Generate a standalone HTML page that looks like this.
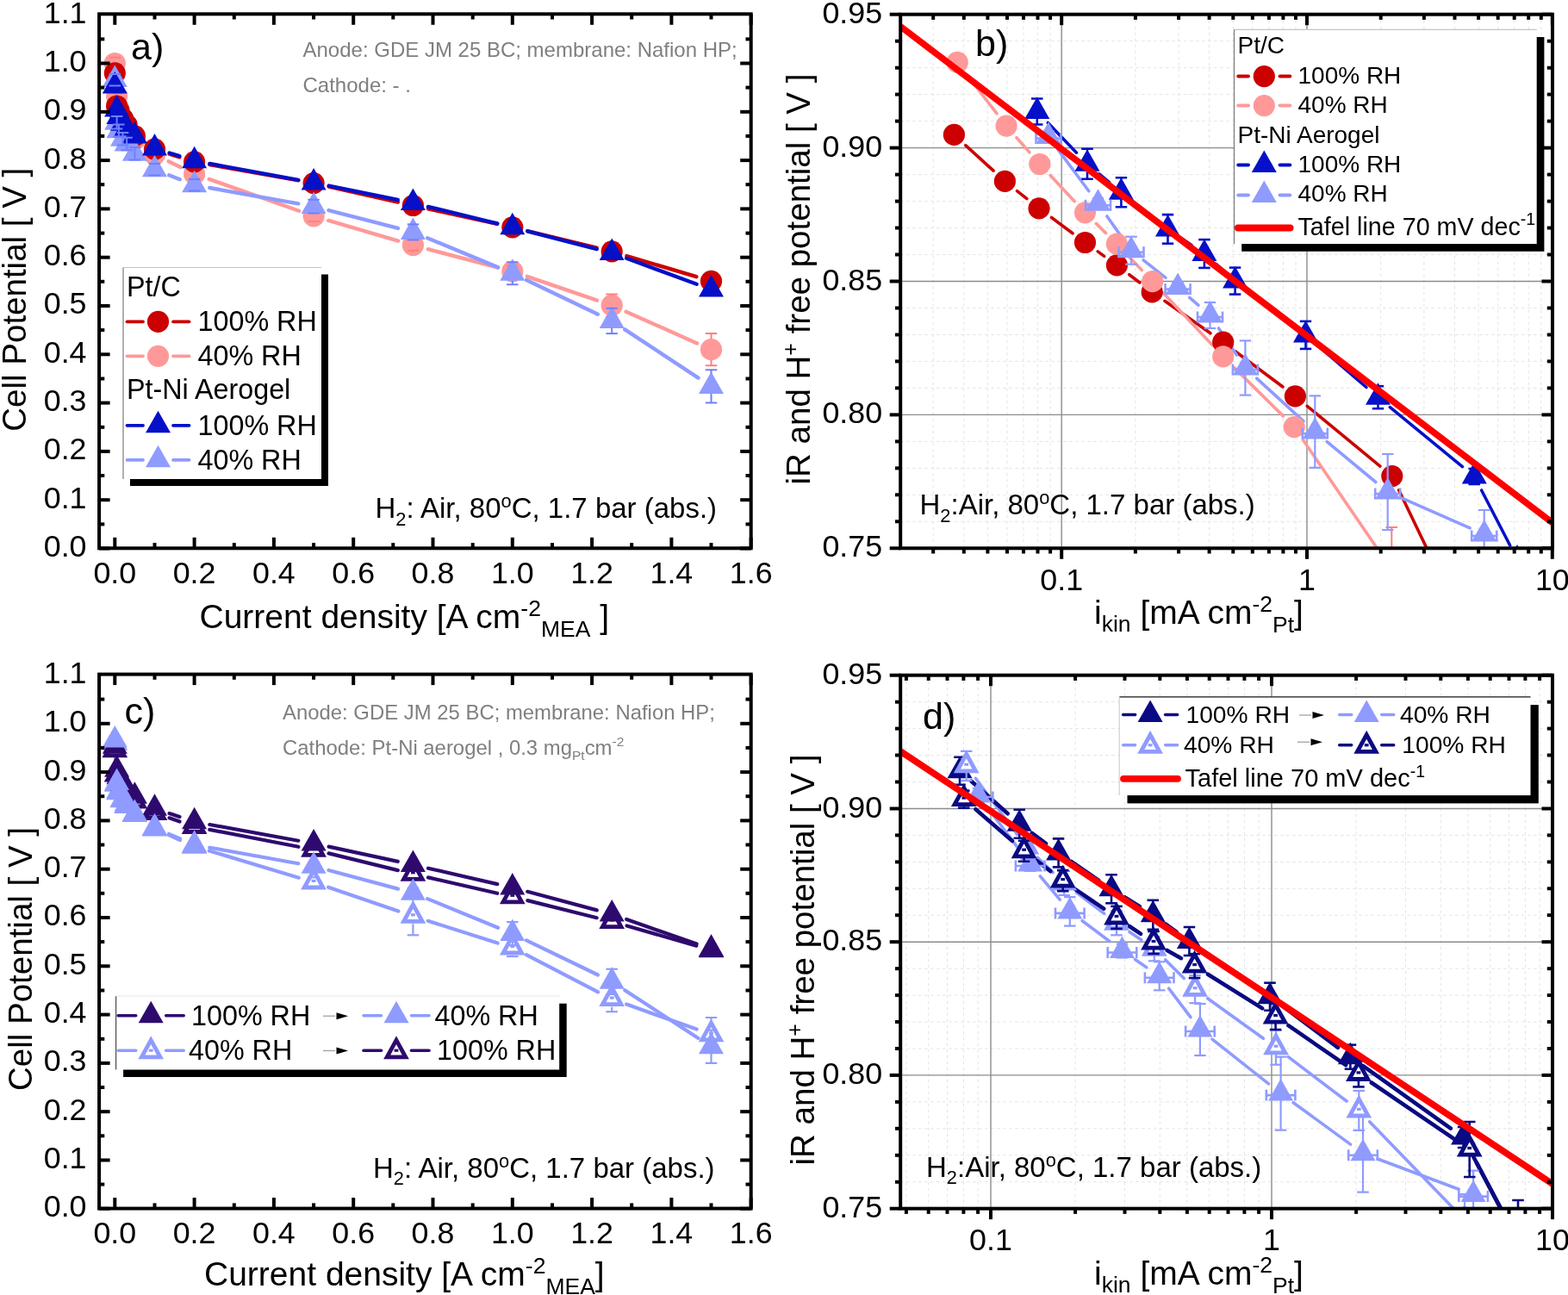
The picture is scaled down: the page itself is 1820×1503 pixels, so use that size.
<!DOCTYPE html>
<html lang="en">
<head>
<meta charset="utf-8">
<title>Polarization curves and Tafel plots</title>
<style>
html,body{margin:0;padding:0;background:#fff;}
body{width:1820px;height:1503px;overflow:hidden;}
svg{display:block;font-family:"Liberation Sans", sans-serif;}
</style>
</head>
<body>
<svg width="1820" height="1503" viewBox="0 0 1820 1503">
<rect x="0" y="0" width="1820" height="1503" fill="#fff"/>
<clipPath id="ca"><rect x="115.1" y="16.3" width="756.6" height="620"/></clipPath>
<g clip-path="url(#ca)">
<line x1="134.4" y1="91.5" x2="134.5" y2="93.8" stroke="#ff9999" stroke-width="4.4" stroke-linecap="round"/>
<line x1="195.6" y1="187.2" x2="209.4" y2="194" stroke="#ff9999" stroke-width="4.4" stroke-linecap="round"/>
<line x1="242.6" y1="207.9" x2="347.1" y2="244.8" stroke="#ff9999" stroke-width="4.4" stroke-linecap="round"/>
<line x1="381.3" y1="255.9" x2="462.2" y2="279.6" stroke="#ff9999" stroke-width="4.4" stroke-linecap="round"/>
<line x1="496.8" y1="289.2" x2="577.4" y2="310.4" stroke="#ff9999" stroke-width="4.4" stroke-linecap="round"/>
<line x1="611.8" y1="320.8" x2="693.1" y2="348.6" stroke="#ff9999" stroke-width="4.4" stroke-linecap="round"/>
<line x1="726.6" y1="361.7" x2="809.1" y2="398.4" stroke="#ff9999" stroke-width="4.4" stroke-linecap="round"/>
<line x1="134.4" y1="102.7" x2="134.5" y2="105.1" stroke="#cc0000" stroke-width="4.4" stroke-linecap="round"/>
<line x1="196.6" y1="178.6" x2="208.4" y2="182.3" stroke="#cc0000" stroke-width="4.4" stroke-linecap="round"/>
<line x1="243.3" y1="191" x2="346.3" y2="209.4" stroke="#cc0000" stroke-width="4.4" stroke-linecap="round"/>
<line x1="381.6" y1="216.5" x2="461.9" y2="234.5" stroke="#cc0000" stroke-width="4.4" stroke-linecap="round"/>
<line x1="497" y1="242.3" x2="577.2" y2="259.9" stroke="#cc0000" stroke-width="4.4" stroke-linecap="round"/>
<line x1="612.3" y1="268.1" x2="692.7" y2="287.7" stroke="#cc0000" stroke-width="4.4" stroke-linecap="round"/>
<line x1="727.4" y1="297.1" x2="808.3" y2="321.2" stroke="#cc0000" stroke-width="4.4" stroke-linecap="round"/>
<line x1="134.1" y1="110.6" x2="134.8" y2="124.2" stroke="#8f9bff" stroke-width="4.4" stroke-linecap="round"/>
<line x1="196.2" y1="203.3" x2="208.8" y2="208.3" stroke="#8f9bff" stroke-width="4.4" stroke-linecap="round"/>
<line x1="243.3" y1="218" x2="346.3" y2="236.4" stroke="#8f9bff" stroke-width="4.4" stroke-linecap="round"/>
<line x1="381.5" y1="244.1" x2="462" y2="264.9" stroke="#8f9bff" stroke-width="4.4" stroke-linecap="round"/>
<line x1="496.1" y1="276.3" x2="578.2" y2="310.4" stroke="#8f9bff" stroke-width="4.4" stroke-linecap="round"/>
<line x1="611" y1="325" x2="693.9" y2="364.7" stroke="#8f9bff" stroke-width="4.4" stroke-linecap="round"/>
<line x1="725.2" y1="382.4" x2="810.5" y2="438.6" stroke="#8f9bff" stroke-width="4.4" stroke-linecap="round"/>
<line x1="196.6" y1="177.5" x2="208.4" y2="181.2" stroke="#0510c8" stroke-width="4.4" stroke-linecap="round"/>
<line x1="243.3" y1="189.9" x2="346.3" y2="208.8" stroke="#0510c8" stroke-width="4.4" stroke-linecap="round"/>
<line x1="381.7" y1="215.6" x2="461.8" y2="232" stroke="#0510c8" stroke-width="4.4" stroke-linecap="round"/>
<line x1="496.9" y1="239.9" x2="577.3" y2="259.5" stroke="#0510c8" stroke-width="4.4" stroke-linecap="round"/>
<line x1="612.2" y1="268.3" x2="692.7" y2="289.1" stroke="#0510c8" stroke-width="4.4" stroke-linecap="round"/>
<line x1="727.1" y1="299.8" x2="808.6" y2="329.7" stroke="#0510c8" stroke-width="4.4" stroke-linecap="round"/>
<circle cx="133.3" cy="73.5" r="12.6" fill="#ff9999"/>
<circle cx="135.6" cy="111.8" r="12.6" fill="#ff9999"/>
<circle cx="137.9" cy="127" r="12.6" fill="#ff9999"/>
<circle cx="142.5" cy="138.2" r="12.6" fill="#ff9999"/>
<circle cx="147.1" cy="147.8" r="12.6" fill="#ff9999"/>
<circle cx="156.4" cy="161.9" r="12.6" fill="#ff9999"/>
<circle cx="179.5" cy="179.3" r="12.6" fill="#ff9999"/>
<circle cx="225.6" cy="201.9" r="12.6" fill="#ff9999"/>
<circle cx="364.1" cy="250.8" r="12.6" fill="#ff9999"/>
<circle cx="479.4" cy="284.6" r="12.6" fill="#ff9999"/>
<circle cx="594.8" cy="315" r="12.6" fill="#ff9999"/>
<circle cx="710.2" cy="354.4" r="12.6" fill="#ff9999"/>
<circle cx="825.5" cy="405.7" r="12.6" fill="#ff9999"/>
<line x1="126.6" y1="66.7" x2="140.1" y2="66.7" stroke="#ff7f7f" stroke-width="2" stroke-linecap="butt"/>
<line x1="126.6" y1="80.3" x2="140.1" y2="80.3" stroke="#ff7f7f" stroke-width="2" stroke-linecap="butt"/>
<line x1="128.9" y1="108.4" x2="142.4" y2="108.4" stroke="#ff7f7f" stroke-width="2" stroke-linecap="butt"/>
<line x1="128.9" y1="115.2" x2="142.4" y2="115.2" stroke="#ff7f7f" stroke-width="2" stroke-linecap="butt"/>
<line x1="131.2" y1="123.6" x2="144.7" y2="123.6" stroke="#ff7f7f" stroke-width="2" stroke-linecap="butt"/>
<line x1="131.2" y1="130.4" x2="144.7" y2="130.4" stroke="#ff7f7f" stroke-width="2" stroke-linecap="butt"/>
<line x1="135.8" y1="134.9" x2="149.3" y2="134.9" stroke="#ff7f7f" stroke-width="2" stroke-linecap="butt"/>
<line x1="135.8" y1="141.6" x2="149.3" y2="141.6" stroke="#ff7f7f" stroke-width="2" stroke-linecap="butt"/>
<line x1="140.4" y1="144.4" x2="153.9" y2="144.4" stroke="#ff7f7f" stroke-width="2" stroke-linecap="butt"/>
<line x1="140.4" y1="151.2" x2="153.9" y2="151.2" stroke="#ff7f7f" stroke-width="2" stroke-linecap="butt"/>
<line x1="149.6" y1="158.5" x2="163.1" y2="158.5" stroke="#ff7f7f" stroke-width="2" stroke-linecap="butt"/>
<line x1="149.6" y1="165.3" x2="163.1" y2="165.3" stroke="#ff7f7f" stroke-width="2" stroke-linecap="butt"/>
<line x1="172.7" y1="174.8" x2="186.2" y2="174.8" stroke="#ff7f7f" stroke-width="2" stroke-linecap="butt"/>
<line x1="172.7" y1="183.8" x2="186.2" y2="183.8" stroke="#ff7f7f" stroke-width="2" stroke-linecap="butt"/>
<line x1="218.9" y1="196.2" x2="232.4" y2="196.2" stroke="#ff7f7f" stroke-width="2" stroke-linecap="butt"/>
<line x1="218.9" y1="207.5" x2="232.4" y2="207.5" stroke="#ff7f7f" stroke-width="2" stroke-linecap="butt"/>
<line x1="357.3" y1="244.7" x2="370.8" y2="244.7" stroke="#ff7f7f" stroke-width="2" stroke-linecap="butt"/>
<line x1="357.3" y1="257" x2="370.8" y2="257" stroke="#ff7f7f" stroke-width="2" stroke-linecap="butt"/>
<line x1="472.7" y1="278.4" x2="486.2" y2="278.4" stroke="#ff7f7f" stroke-width="2" stroke-linecap="butt"/>
<line x1="472.7" y1="290.8" x2="486.2" y2="290.8" stroke="#ff7f7f" stroke-width="2" stroke-linecap="butt"/>
<line x1="588" y1="308.3" x2="601.5" y2="308.3" stroke="#ff7f7f" stroke-width="2" stroke-linecap="butt"/>
<line x1="588" y1="321.8" x2="601.5" y2="321.8" stroke="#ff7f7f" stroke-width="2" stroke-linecap="butt"/>
<line x1="710.2" y1="341.5" x2="710.2" y2="342" stroke="#ff7f7f" stroke-width="2" stroke-linecap="butt"/>
<line x1="710.2" y1="366.8" x2="710.2" y2="367.4" stroke="#ff7f7f" stroke-width="2" stroke-linecap="butt"/>
<line x1="703.4" y1="341.5" x2="716.9" y2="341.5" stroke="#ff7f7f" stroke-width="2" stroke-linecap="butt"/>
<line x1="703.4" y1="367.4" x2="716.9" y2="367.4" stroke="#ff7f7f" stroke-width="2" stroke-linecap="butt"/>
<line x1="825.5" y1="387.1" x2="825.5" y2="393.3" stroke="#ff7f7f" stroke-width="2" stroke-linecap="butt"/>
<line x1="825.5" y1="418.1" x2="825.5" y2="424.2" stroke="#ff7f7f" stroke-width="2" stroke-linecap="butt"/>
<line x1="818.8" y1="387.1" x2="832.3" y2="387.1" stroke="#ff7f7f" stroke-width="2" stroke-linecap="butt"/>
<line x1="818.8" y1="424.2" x2="832.3" y2="424.2" stroke="#ff7f7f" stroke-width="2" stroke-linecap="butt"/>
<circle cx="133.3" cy="84.8" r="12.6" fill="#cc0000"/>
<circle cx="135.6" cy="123" r="12.6" fill="#cc0000"/>
<circle cx="137.9" cy="128.7" r="12.6" fill="#cc0000"/>
<circle cx="142.5" cy="137.7" r="12.6" fill="#cc0000"/>
<circle cx="147.1" cy="145" r="12.6" fill="#cc0000"/>
<circle cx="156.4" cy="157.9" r="12.6" fill="#cc0000"/>
<circle cx="179.5" cy="173.2" r="12.6" fill="#cc0000"/>
<circle cx="225.6" cy="187.8" r="12.6" fill="#cc0000"/>
<circle cx="364.1" cy="212.6" r="12.6" fill="#cc0000"/>
<circle cx="479.4" cy="238.5" r="12.6" fill="#cc0000"/>
<circle cx="594.8" cy="263.8" r="12.6" fill="#cc0000"/>
<circle cx="710.2" cy="291.9" r="12.6" fill="#cc0000"/>
<circle cx="825.5" cy="326.3" r="12.6" fill="#cc0000"/>
<path d="M118.8 101.1L147.8 101.1L133.3 75.6Z" fill="#8f9bff"/>
<path d="M121.1 150.7L150.1 150.7L135.6 125.2Z" fill="#8f9bff"/>
<path d="M123.4 160.3L152.4 160.3L137.9 134.8Z" fill="#8f9bff"/>
<path d="M128 169.8L157 169.8L142.5 144.3Z" fill="#8f9bff"/>
<path d="M132.6 175.5L161.6 175.5L147.1 150Z" fill="#8f9bff"/>
<path d="M141.9 186.7L170.9 186.7L156.4 161.2Z" fill="#8f9bff"/>
<path d="M165 205.3L194 205.3L179.5 179.8Z" fill="#8f9bff"/>
<path d="M211.1 223.3L240.1 223.3L225.6 197.8Z" fill="#8f9bff"/>
<path d="M349.6 248.1L378.6 248.1L364.1 222.6Z" fill="#8f9bff"/>
<path d="M464.9 277.9L493.9 277.9L479.4 252.4Z" fill="#8f9bff"/>
<path d="M580.3 325.8L609.3 325.8L594.8 300.3Z" fill="#8f9bff"/>
<path d="M695.7 381L724.7 381L710.2 355.5Z" fill="#8f9bff"/>
<path d="M811 457L840 457L825.5 431.5Z" fill="#8f9bff"/>
<path d="M118.8 108.5L147.8 108.5L133.3 83Z" fill="#0510c8"/>
<path d="M121.1 135.5L150.1 135.5L135.6 110Z" fill="#0510c8"/>
<path d="M123.4 143.9L152.4 143.9L137.9 118.4Z" fill="#0510c8"/>
<path d="M128 151.8L157 151.8L142.5 126.3Z" fill="#0510c8"/>
<path d="M132.6 157.4L161.6 157.4L147.1 131.9Z" fill="#0510c8"/>
<path d="M141.9 166.4L170.9 166.4L156.4 140.9Z" fill="#0510c8"/>
<path d="M165 180.5L194 180.5L179.5 155Z" fill="#0510c8"/>
<path d="M211.1 195.2L240.1 195.2L225.6 169.7Z" fill="#0510c8"/>
<path d="M349.6 220.5L378.6 220.5L364.1 195Z" fill="#0510c8"/>
<path d="M464.9 244.1L493.9 244.1L479.4 218.6Z" fill="#0510c8"/>
<path d="M580.3 272.3L609.3 272.3L594.8 246.8Z" fill="#0510c8"/>
<path d="M695.7 302.1L724.7 302.1L710.2 276.6Z" fill="#0510c8"/>
<path d="M811 344.4L840 344.4L825.5 318.9Z" fill="#0510c8"/>
<line x1="126.6" y1="85.9" x2="140.1" y2="85.9" stroke="#6e80ff" stroke-width="2" stroke-linecap="butt"/>
<line x1="126.6" y1="99.4" x2="140.1" y2="99.4" stroke="#6e80ff" stroke-width="2" stroke-linecap="butt"/>
<line x1="135.6" y1="135" x2="135.6" y2="142.2" stroke="#6e80ff" stroke-width="2" stroke-linecap="butt"/>
<line x1="135.6" y1="142.2" x2="135.6" y2="149.4" stroke="#6e80ff" stroke-width="2" stroke-linecap="butt"/>
<line x1="128.9" y1="135" x2="142.4" y2="135" stroke="#6e80ff" stroke-width="2" stroke-linecap="butt"/>
<line x1="128.9" y1="149.4" x2="142.4" y2="149.4" stroke="#6e80ff" stroke-width="2" stroke-linecap="butt"/>
<line x1="137.9" y1="144.6" x2="137.9" y2="151.8" stroke="#6e80ff" stroke-width="2" stroke-linecap="butt"/>
<line x1="137.9" y1="151.8" x2="137.9" y2="159" stroke="#6e80ff" stroke-width="2" stroke-linecap="butt"/>
<line x1="131.2" y1="144.6" x2="144.7" y2="144.6" stroke="#6e80ff" stroke-width="2" stroke-linecap="butt"/>
<line x1="131.2" y1="159" x2="144.7" y2="159" stroke="#6e80ff" stroke-width="2" stroke-linecap="butt"/>
<line x1="142.5" y1="154.1" x2="142.5" y2="161.3" stroke="#6e80ff" stroke-width="2" stroke-linecap="butt"/>
<line x1="142.5" y1="161.3" x2="142.5" y2="168.5" stroke="#6e80ff" stroke-width="2" stroke-linecap="butt"/>
<line x1="135.8" y1="154.1" x2="149.3" y2="154.1" stroke="#6e80ff" stroke-width="2" stroke-linecap="butt"/>
<line x1="135.8" y1="168.5" x2="149.3" y2="168.5" stroke="#6e80ff" stroke-width="2" stroke-linecap="butt"/>
<line x1="147.1" y1="159.8" x2="147.1" y2="167" stroke="#6e80ff" stroke-width="2" stroke-linecap="butt"/>
<line x1="147.1" y1="167" x2="147.1" y2="174.2" stroke="#6e80ff" stroke-width="2" stroke-linecap="butt"/>
<line x1="140.4" y1="159.8" x2="153.9" y2="159.8" stroke="#6e80ff" stroke-width="2" stroke-linecap="butt"/>
<line x1="140.4" y1="174.2" x2="153.9" y2="174.2" stroke="#6e80ff" stroke-width="2" stroke-linecap="butt"/>
<line x1="156.4" y1="171" x2="156.4" y2="178.2" stroke="#6e80ff" stroke-width="2" stroke-linecap="butt"/>
<line x1="156.4" y1="178.2" x2="156.4" y2="185.4" stroke="#6e80ff" stroke-width="2" stroke-linecap="butt"/>
<line x1="149.6" y1="171" x2="163.1" y2="171" stroke="#6e80ff" stroke-width="2" stroke-linecap="butt"/>
<line x1="149.6" y1="185.4" x2="163.1" y2="185.4" stroke="#6e80ff" stroke-width="2" stroke-linecap="butt"/>
<line x1="172.7" y1="190" x2="186.2" y2="190" stroke="#6e80ff" stroke-width="2" stroke-linecap="butt"/>
<line x1="172.7" y1="203.6" x2="186.2" y2="203.6" stroke="#6e80ff" stroke-width="2" stroke-linecap="butt"/>
<line x1="218.9" y1="208.1" x2="232.4" y2="208.1" stroke="#6e80ff" stroke-width="2" stroke-linecap="butt"/>
<line x1="218.9" y1="221.6" x2="232.4" y2="221.6" stroke="#6e80ff" stroke-width="2" stroke-linecap="butt"/>
<line x1="357.3" y1="231.7" x2="370.8" y2="231.7" stroke="#6e80ff" stroke-width="2" stroke-linecap="butt"/>
<line x1="357.3" y1="247.5" x2="370.8" y2="247.5" stroke="#6e80ff" stroke-width="2" stroke-linecap="butt"/>
<line x1="479.4" y1="277.9" x2="479.4" y2="278.4" stroke="#6e80ff" stroke-width="2" stroke-linecap="butt"/>
<line x1="472.7" y1="260.4" x2="486.2" y2="260.4" stroke="#6e80ff" stroke-width="2" stroke-linecap="butt"/>
<line x1="472.7" y1="278.4" x2="486.2" y2="278.4" stroke="#6e80ff" stroke-width="2" stroke-linecap="butt"/>
<line x1="594.8" y1="325.8" x2="594.8" y2="330.2" stroke="#6e80ff" stroke-width="2" stroke-linecap="butt"/>
<line x1="588" y1="304.3" x2="601.5" y2="304.3" stroke="#6e80ff" stroke-width="2" stroke-linecap="butt"/>
<line x1="588" y1="330.2" x2="601.5" y2="330.2" stroke="#6e80ff" stroke-width="2" stroke-linecap="butt"/>
<line x1="710.2" y1="381" x2="710.2" y2="387.1" stroke="#6e80ff" stroke-width="2" stroke-linecap="butt"/>
<line x1="703.4" y1="357.8" x2="716.9" y2="357.8" stroke="#6e80ff" stroke-width="2" stroke-linecap="butt"/>
<line x1="703.4" y1="387.1" x2="716.9" y2="387.1" stroke="#6e80ff" stroke-width="2" stroke-linecap="butt"/>
<line x1="825.5" y1="429.3" x2="825.5" y2="433.5" stroke="#6e80ff" stroke-width="2" stroke-linecap="butt"/>
<line x1="825.5" y1="457" x2="825.5" y2="467.6" stroke="#6e80ff" stroke-width="2" stroke-linecap="butt"/>
<line x1="818.8" y1="429.3" x2="832.3" y2="429.3" stroke="#6e80ff" stroke-width="2" stroke-linecap="butt"/>
<line x1="818.8" y1="467.6" x2="832.3" y2="467.6" stroke="#6e80ff" stroke-width="2" stroke-linecap="butt"/>
</g>
<line x1="133.3" y1="636.3" x2="133.3" y2="623.8" stroke="#000" stroke-width="4" stroke-linecap="butt"/>
<line x1="133.3" y1="16.3" x2="133.3" y2="28.8" stroke="#000" stroke-width="4" stroke-linecap="butt"/>
<line x1="179.5" y1="636.3" x2="179.5" y2="630.1" stroke="#000" stroke-width="4" stroke-linecap="butt"/>
<line x1="179.5" y1="16.3" x2="179.5" y2="22.5" stroke="#000" stroke-width="4" stroke-linecap="butt"/>
<line x1="225.6" y1="636.3" x2="225.6" y2="623.8" stroke="#000" stroke-width="4" stroke-linecap="butt"/>
<line x1="225.6" y1="16.3" x2="225.6" y2="28.8" stroke="#000" stroke-width="4" stroke-linecap="butt"/>
<line x1="271.8" y1="636.3" x2="271.8" y2="630.1" stroke="#000" stroke-width="4" stroke-linecap="butt"/>
<line x1="271.8" y1="16.3" x2="271.8" y2="22.5" stroke="#000" stroke-width="4" stroke-linecap="butt"/>
<line x1="317.9" y1="636.3" x2="317.9" y2="623.8" stroke="#000" stroke-width="4" stroke-linecap="butt"/>
<line x1="317.9" y1="16.3" x2="317.9" y2="28.8" stroke="#000" stroke-width="4" stroke-linecap="butt"/>
<line x1="364.1" y1="636.3" x2="364.1" y2="630.1" stroke="#000" stroke-width="4" stroke-linecap="butt"/>
<line x1="364.1" y1="16.3" x2="364.1" y2="22.5" stroke="#000" stroke-width="4" stroke-linecap="butt"/>
<line x1="410.2" y1="636.3" x2="410.2" y2="623.8" stroke="#000" stroke-width="4" stroke-linecap="butt"/>
<line x1="410.2" y1="16.3" x2="410.2" y2="28.8" stroke="#000" stroke-width="4" stroke-linecap="butt"/>
<line x1="456.3" y1="636.3" x2="456.3" y2="630.1" stroke="#000" stroke-width="4" stroke-linecap="butt"/>
<line x1="456.3" y1="16.3" x2="456.3" y2="22.5" stroke="#000" stroke-width="4" stroke-linecap="butt"/>
<line x1="502.5" y1="636.3" x2="502.5" y2="623.8" stroke="#000" stroke-width="4" stroke-linecap="butt"/>
<line x1="502.5" y1="16.3" x2="502.5" y2="28.8" stroke="#000" stroke-width="4" stroke-linecap="butt"/>
<line x1="548.7" y1="636.3" x2="548.7" y2="630.1" stroke="#000" stroke-width="4" stroke-linecap="butt"/>
<line x1="548.7" y1="16.3" x2="548.7" y2="22.5" stroke="#000" stroke-width="4" stroke-linecap="butt"/>
<line x1="594.8" y1="636.3" x2="594.8" y2="623.8" stroke="#000" stroke-width="4" stroke-linecap="butt"/>
<line x1="594.8" y1="16.3" x2="594.8" y2="28.8" stroke="#000" stroke-width="4" stroke-linecap="butt"/>
<line x1="641" y1="636.3" x2="641" y2="630.1" stroke="#000" stroke-width="4" stroke-linecap="butt"/>
<line x1="641" y1="16.3" x2="641" y2="22.5" stroke="#000" stroke-width="4" stroke-linecap="butt"/>
<line x1="687.1" y1="636.3" x2="687.1" y2="623.8" stroke="#000" stroke-width="4" stroke-linecap="butt"/>
<line x1="687.1" y1="16.3" x2="687.1" y2="28.8" stroke="#000" stroke-width="4" stroke-linecap="butt"/>
<line x1="733.2" y1="636.3" x2="733.2" y2="630.1" stroke="#000" stroke-width="4" stroke-linecap="butt"/>
<line x1="733.2" y1="16.3" x2="733.2" y2="22.5" stroke="#000" stroke-width="4" stroke-linecap="butt"/>
<line x1="779.4" y1="636.3" x2="779.4" y2="623.8" stroke="#000" stroke-width="4" stroke-linecap="butt"/>
<line x1="779.4" y1="16.3" x2="779.4" y2="28.8" stroke="#000" stroke-width="4" stroke-linecap="butt"/>
<line x1="825.5" y1="636.3" x2="825.5" y2="630.1" stroke="#000" stroke-width="4" stroke-linecap="butt"/>
<line x1="825.5" y1="16.3" x2="825.5" y2="22.5" stroke="#000" stroke-width="4" stroke-linecap="butt"/>
<line x1="871.7" y1="636.3" x2="871.7" y2="623.8" stroke="#000" stroke-width="4" stroke-linecap="butt"/>
<line x1="871.7" y1="16.3" x2="871.7" y2="28.8" stroke="#000" stroke-width="4" stroke-linecap="butt"/>
<line x1="115.1" y1="636.5" x2="127.6" y2="636.5" stroke="#000" stroke-width="4" stroke-linecap="butt"/>
<line x1="871.7" y1="636.5" x2="859.2" y2="636.5" stroke="#000" stroke-width="4" stroke-linecap="butt"/>
<line x1="115.1" y1="608.4" x2="121.3" y2="608.4" stroke="#000" stroke-width="4" stroke-linecap="butt"/>
<line x1="871.7" y1="608.4" x2="865.5" y2="608.4" stroke="#000" stroke-width="4" stroke-linecap="butt"/>
<line x1="115.1" y1="580.2" x2="127.6" y2="580.2" stroke="#000" stroke-width="4" stroke-linecap="butt"/>
<line x1="871.7" y1="580.2" x2="859.2" y2="580.2" stroke="#000" stroke-width="4" stroke-linecap="butt"/>
<line x1="115.1" y1="552" x2="121.3" y2="552" stroke="#000" stroke-width="4" stroke-linecap="butt"/>
<line x1="871.7" y1="552" x2="865.5" y2="552" stroke="#000" stroke-width="4" stroke-linecap="butt"/>
<line x1="115.1" y1="523.9" x2="127.6" y2="523.9" stroke="#000" stroke-width="4" stroke-linecap="butt"/>
<line x1="871.7" y1="523.9" x2="859.2" y2="523.9" stroke="#000" stroke-width="4" stroke-linecap="butt"/>
<line x1="115.1" y1="495.8" x2="121.3" y2="495.8" stroke="#000" stroke-width="4" stroke-linecap="butt"/>
<line x1="871.7" y1="495.8" x2="865.5" y2="495.8" stroke="#000" stroke-width="4" stroke-linecap="butt"/>
<line x1="115.1" y1="467.6" x2="127.6" y2="467.6" stroke="#000" stroke-width="4" stroke-linecap="butt"/>
<line x1="871.7" y1="467.6" x2="859.2" y2="467.6" stroke="#000" stroke-width="4" stroke-linecap="butt"/>
<line x1="115.1" y1="439.5" x2="121.3" y2="439.5" stroke="#000" stroke-width="4" stroke-linecap="butt"/>
<line x1="871.7" y1="439.5" x2="865.5" y2="439.5" stroke="#000" stroke-width="4" stroke-linecap="butt"/>
<line x1="115.1" y1="411.3" x2="127.6" y2="411.3" stroke="#000" stroke-width="4" stroke-linecap="butt"/>
<line x1="871.7" y1="411.3" x2="859.2" y2="411.3" stroke="#000" stroke-width="4" stroke-linecap="butt"/>
<line x1="115.1" y1="383.1" x2="121.3" y2="383.1" stroke="#000" stroke-width="4" stroke-linecap="butt"/>
<line x1="871.7" y1="383.1" x2="865.5" y2="383.1" stroke="#000" stroke-width="4" stroke-linecap="butt"/>
<line x1="115.1" y1="355" x2="127.6" y2="355" stroke="#000" stroke-width="4" stroke-linecap="butt"/>
<line x1="871.7" y1="355" x2="859.2" y2="355" stroke="#000" stroke-width="4" stroke-linecap="butt"/>
<line x1="115.1" y1="326.8" x2="121.3" y2="326.8" stroke="#000" stroke-width="4" stroke-linecap="butt"/>
<line x1="871.7" y1="326.8" x2="865.5" y2="326.8" stroke="#000" stroke-width="4" stroke-linecap="butt"/>
<line x1="115.1" y1="298.7" x2="127.6" y2="298.7" stroke="#000" stroke-width="4" stroke-linecap="butt"/>
<line x1="871.7" y1="298.7" x2="859.2" y2="298.7" stroke="#000" stroke-width="4" stroke-linecap="butt"/>
<line x1="115.1" y1="270.6" x2="121.3" y2="270.6" stroke="#000" stroke-width="4" stroke-linecap="butt"/>
<line x1="871.7" y1="270.6" x2="865.5" y2="270.6" stroke="#000" stroke-width="4" stroke-linecap="butt"/>
<line x1="115.1" y1="242.4" x2="127.6" y2="242.4" stroke="#000" stroke-width="4" stroke-linecap="butt"/>
<line x1="871.7" y1="242.4" x2="859.2" y2="242.4" stroke="#000" stroke-width="4" stroke-linecap="butt"/>
<line x1="115.1" y1="214.2" x2="121.3" y2="214.2" stroke="#000" stroke-width="4" stroke-linecap="butt"/>
<line x1="871.7" y1="214.2" x2="865.5" y2="214.2" stroke="#000" stroke-width="4" stroke-linecap="butt"/>
<line x1="115.1" y1="186.1" x2="127.6" y2="186.1" stroke="#000" stroke-width="4" stroke-linecap="butt"/>
<line x1="871.7" y1="186.1" x2="859.2" y2="186.1" stroke="#000" stroke-width="4" stroke-linecap="butt"/>
<line x1="115.1" y1="157.9" x2="121.3" y2="157.9" stroke="#000" stroke-width="4" stroke-linecap="butt"/>
<line x1="871.7" y1="157.9" x2="865.5" y2="157.9" stroke="#000" stroke-width="4" stroke-linecap="butt"/>
<line x1="115.1" y1="129.8" x2="127.6" y2="129.8" stroke="#000" stroke-width="4" stroke-linecap="butt"/>
<line x1="871.7" y1="129.8" x2="859.2" y2="129.8" stroke="#000" stroke-width="4" stroke-linecap="butt"/>
<line x1="115.1" y1="101.6" x2="121.3" y2="101.6" stroke="#000" stroke-width="4" stroke-linecap="butt"/>
<line x1="871.7" y1="101.6" x2="865.5" y2="101.6" stroke="#000" stroke-width="4" stroke-linecap="butt"/>
<line x1="115.1" y1="73.5" x2="127.6" y2="73.5" stroke="#000" stroke-width="4" stroke-linecap="butt"/>
<line x1="871.7" y1="73.5" x2="859.2" y2="73.5" stroke="#000" stroke-width="4" stroke-linecap="butt"/>
<line x1="115.1" y1="45.4" x2="121.3" y2="45.4" stroke="#000" stroke-width="4" stroke-linecap="butt"/>
<line x1="871.7" y1="45.4" x2="865.5" y2="45.4" stroke="#000" stroke-width="4" stroke-linecap="butt"/>
<rect x="115.1" y="16.3" width="756.6" height="620" fill="none" stroke="#000" stroke-width="4"/>
<text x="133.3" y="676.7" font-size="35.8" fill="#000" text-anchor="middle">0.0</text>
<text x="225.6" y="676.7" font-size="35.8" fill="#000" text-anchor="middle">0.2</text>
<text x="317.9" y="676.7" font-size="35.8" fill="#000" text-anchor="middle">0.4</text>
<text x="410.2" y="676.7" font-size="35.8" fill="#000" text-anchor="middle">0.6</text>
<text x="502.5" y="676.7" font-size="35.8" fill="#000" text-anchor="middle">0.8</text>
<text x="594.8" y="676.7" font-size="35.8" fill="#000" text-anchor="middle">1.0</text>
<text x="687.1" y="676.7" font-size="35.8" fill="#000" text-anchor="middle">1.2</text>
<text x="779.4" y="676.7" font-size="35.8" fill="#000" text-anchor="middle">1.4</text>
<text x="871.7" y="676.7" font-size="35.8" fill="#000" text-anchor="middle">1.6</text>
<text x="100.5" y="645.9" font-size="35.8" fill="#000" text-anchor="end">0.0</text>
<text x="100.5" y="589.6" font-size="35.8" fill="#000" text-anchor="end">0.1</text>
<text x="100.5" y="533.3" font-size="35.8" fill="#000" text-anchor="end">0.2</text>
<text x="100.5" y="477" font-size="35.8" fill="#000" text-anchor="end">0.3</text>
<text x="100.5" y="420.7" font-size="35.8" fill="#000" text-anchor="end">0.4</text>
<text x="100.5" y="364.4" font-size="35.8" fill="#000" text-anchor="end">0.5</text>
<text x="100.5" y="308.1" font-size="35.8" fill="#000" text-anchor="end">0.6</text>
<text x="100.5" y="251.8" font-size="35.8" fill="#000" text-anchor="end">0.7</text>
<text x="100.5" y="195.5" font-size="35.8" fill="#000" text-anchor="end">0.8</text>
<text x="100.5" y="139.2" font-size="35.8" fill="#000" text-anchor="end">0.9</text>
<text x="100.5" y="82.9" font-size="35.8" fill="#000" text-anchor="end">1.0</text>
<text x="100.5" y="26.6" font-size="35.8" fill="#000" text-anchor="end">1.1</text>
<text x="152" y="69.2" font-size="43" fill="#000" text-anchor="start">a)</text>
<text x="351.5" y="66.2" font-size="24" fill="#7f7f7f" text-anchor="start">Anode: GDE JM 25 BC; membrane: Nafion HP;</text>
<text x="351.5" y="107.2" font-size="24" fill="#7f7f7f" text-anchor="start">Cathode: - .</text>
<text x="435.5" y="601.3" font-size="33" fill="#000" text-anchor="start">H<tspan font-size="21.8" dy="8.2">2</tspan><tspan dy="-8.2">: Air, 80</tspan><tspan font-size="21.8" dy="-11.9">o</tspan><tspan dy="11.9">C, 1.7 bar (abs.)</tspan></text>
<text x="231.5" y="729" font-size="39.0" fill="#000" text-anchor="start">Current density [A cm<tspan font-size="26.5" dy="-14.0">-2</tspan><tspan font-size="26.5" dy="24.2">MEA</tspan><tspan dy="-10.1"> ]</tspan></text>
<text x="29.8" y="347.7" font-size="38.5" fill="#000" text-anchor="middle" transform="rotate(-90 29.8 347.7)">Cell Potential [ V ]</text>
<rect x="151" y="318.5" width="230" height="245.5" fill="#000"/>
<rect x="143" y="310.5" width="230" height="245.5" fill="#fff"/>
<line x1="143" y1="310.5" x2="373" y2="310.5" stroke="#c4c4c4" stroke-width="1.2" stroke-linecap="butt"/>
<line x1="143" y1="310.5" x2="143" y2="556" stroke="#7a7a7a" stroke-width="1.2" stroke-linecap="butt"/>
<text x="147" y="343.6" font-size="32.3" fill="#000" text-anchor="start">Pt/C</text>
<line x1="147.5" y1="373.3" x2="166" y2="373.3" stroke="#cc0000" stroke-width="3.8" stroke-linecap="round"/>
<line x1="201" y1="373.3" x2="219.5" y2="373.3" stroke="#cc0000" stroke-width="3.8" stroke-linecap="round"/>
<circle cx="183.5" cy="373.3" r="12.6" fill="#cc0000"/>
<text x="229.5" y="383.6" font-size="32.3" fill="#000" text-anchor="start">100% RH</text>
<line x1="147.5" y1="413.3" x2="166" y2="413.3" stroke="#ff9999" stroke-width="3.8" stroke-linecap="round"/>
<line x1="201" y1="413.3" x2="219.5" y2="413.3" stroke="#ff9999" stroke-width="3.8" stroke-linecap="round"/>
<circle cx="183.5" cy="413.3" r="12.6" fill="#ff9999"/>
<text x="229.5" y="423.6" font-size="32.3" fill="#000" text-anchor="start">40% RH</text>
<text x="147" y="463.2" font-size="32.3" fill="#000" text-anchor="start">Pt-Ni Aerogel</text>
<line x1="147.5" y1="493.8" x2="166" y2="493.8" stroke="#0510c8" stroke-width="3.8" stroke-linecap="round"/>
<line x1="201" y1="493.8" x2="219.5" y2="493.8" stroke="#0510c8" stroke-width="3.8" stroke-linecap="round"/>
<path d="M169 502.3L198 502.3L183.5 476.8Z" fill="#0510c8"/>
<text x="229.5" y="504.6" font-size="32.3" fill="#000" text-anchor="start">100% RH</text>
<line x1="147.5" y1="533.8" x2="166" y2="533.8" stroke="#8f9bff" stroke-width="3.8" stroke-linecap="round"/>
<line x1="201" y1="533.8" x2="219.5" y2="533.8" stroke="#8f9bff" stroke-width="3.8" stroke-linecap="round"/>
<path d="M169 542.3L198 542.3L183.5 516.8Z" fill="#8f9bff"/>
<text x="229.5" y="545" font-size="32.3" fill="#000" text-anchor="start">40% RH</text>
<line x1="1083.2" y1="16.7" x2="1083.2" y2="636.3" stroke="#e4e4e4" stroke-width="1" stroke-linecap="butt" stroke-dasharray="3.5 3.5"/>
<line x1="1118.8" y1="16.7" x2="1118.8" y2="636.3" stroke="#e4e4e4" stroke-width="1" stroke-linecap="butt" stroke-dasharray="3.5 3.5"/>
<line x1="1146.4" y1="16.7" x2="1146.4" y2="636.3" stroke="#e4e4e4" stroke-width="1" stroke-linecap="butt" stroke-dasharray="3.5 3.5"/>
<line x1="1169" y1="16.7" x2="1169" y2="636.3" stroke="#e4e4e4" stroke-width="1" stroke-linecap="butt" stroke-dasharray="3.5 3.5"/>
<line x1="1188" y1="16.7" x2="1188" y2="636.3" stroke="#e4e4e4" stroke-width="1" stroke-linecap="butt" stroke-dasharray="3.5 3.5"/>
<line x1="1204.5" y1="16.7" x2="1204.5" y2="636.3" stroke="#e4e4e4" stroke-width="1" stroke-linecap="butt" stroke-dasharray="3.5 3.5"/>
<line x1="1219.1" y1="16.7" x2="1219.1" y2="636.3" stroke="#e4e4e4" stroke-width="1" stroke-linecap="butt" stroke-dasharray="3.5 3.5"/>
<line x1="1317.9" y1="16.7" x2="1317.9" y2="636.3" stroke="#e4e4e4" stroke-width="1" stroke-linecap="butt" stroke-dasharray="3.5 3.5"/>
<line x1="1368.1" y1="16.7" x2="1368.1" y2="636.3" stroke="#e4e4e4" stroke-width="1" stroke-linecap="butt" stroke-dasharray="3.5 3.5"/>
<line x1="1403.6" y1="16.7" x2="1403.6" y2="636.3" stroke="#e4e4e4" stroke-width="1" stroke-linecap="butt" stroke-dasharray="3.5 3.5"/>
<line x1="1431.3" y1="16.7" x2="1431.3" y2="636.3" stroke="#e4e4e4" stroke-width="1" stroke-linecap="butt" stroke-dasharray="3.5 3.5"/>
<line x1="1453.8" y1="16.7" x2="1453.8" y2="636.3" stroke="#e4e4e4" stroke-width="1" stroke-linecap="butt" stroke-dasharray="3.5 3.5"/>
<line x1="1472.9" y1="16.7" x2="1472.9" y2="636.3" stroke="#e4e4e4" stroke-width="1" stroke-linecap="butt" stroke-dasharray="3.5 3.5"/>
<line x1="1489.4" y1="16.7" x2="1489.4" y2="636.3" stroke="#e4e4e4" stroke-width="1" stroke-linecap="butt" stroke-dasharray="3.5 3.5"/>
<line x1="1504" y1="16.7" x2="1504" y2="636.3" stroke="#e4e4e4" stroke-width="1" stroke-linecap="butt" stroke-dasharray="3.5 3.5"/>
<line x1="1602.7" y1="16.7" x2="1602.7" y2="636.3" stroke="#e4e4e4" stroke-width="1" stroke-linecap="butt" stroke-dasharray="3.5 3.5"/>
<line x1="1652.9" y1="16.7" x2="1652.9" y2="636.3" stroke="#e4e4e4" stroke-width="1" stroke-linecap="butt" stroke-dasharray="3.5 3.5"/>
<line x1="1688.5" y1="16.7" x2="1688.5" y2="636.3" stroke="#e4e4e4" stroke-width="1" stroke-linecap="butt" stroke-dasharray="3.5 3.5"/>
<line x1="1716.1" y1="16.7" x2="1716.1" y2="636.3" stroke="#e4e4e4" stroke-width="1" stroke-linecap="butt" stroke-dasharray="3.5 3.5"/>
<line x1="1738.7" y1="16.7" x2="1738.7" y2="636.3" stroke="#e4e4e4" stroke-width="1" stroke-linecap="butt" stroke-dasharray="3.5 3.5"/>
<line x1="1757.7" y1="16.7" x2="1757.7" y2="636.3" stroke="#e4e4e4" stroke-width="1" stroke-linecap="butt" stroke-dasharray="3.5 3.5"/>
<line x1="1774.2" y1="16.7" x2="1774.2" y2="636.3" stroke="#e4e4e4" stroke-width="1" stroke-linecap="butt" stroke-dasharray="3.5 3.5"/>
<line x1="1788.8" y1="16.7" x2="1788.8" y2="636.3" stroke="#e4e4e4" stroke-width="1" stroke-linecap="butt" stroke-dasharray="3.5 3.5"/>
<line x1="1045.2" y1="605.3" x2="1802" y2="605.3" stroke="#e4e4e4" stroke-width="1" stroke-linecap="butt" stroke-dasharray="3.5 3.5"/>
<line x1="1045.2" y1="574.3" x2="1802" y2="574.3" stroke="#e4e4e4" stroke-width="1" stroke-linecap="butt" stroke-dasharray="3.5 3.5"/>
<line x1="1045.2" y1="543.4" x2="1802" y2="543.4" stroke="#e4e4e4" stroke-width="1" stroke-linecap="butt" stroke-dasharray="3.5 3.5"/>
<line x1="1045.2" y1="512.4" x2="1802" y2="512.4" stroke="#e4e4e4" stroke-width="1" stroke-linecap="butt" stroke-dasharray="3.5 3.5"/>
<line x1="1045.2" y1="450.4" x2="1802" y2="450.4" stroke="#e4e4e4" stroke-width="1" stroke-linecap="butt" stroke-dasharray="3.5 3.5"/>
<line x1="1045.2" y1="419.4" x2="1802" y2="419.4" stroke="#e4e4e4" stroke-width="1" stroke-linecap="butt" stroke-dasharray="3.5 3.5"/>
<line x1="1045.2" y1="388.5" x2="1802" y2="388.5" stroke="#e4e4e4" stroke-width="1" stroke-linecap="butt" stroke-dasharray="3.5 3.5"/>
<line x1="1045.2" y1="357.5" x2="1802" y2="357.5" stroke="#e4e4e4" stroke-width="1" stroke-linecap="butt" stroke-dasharray="3.5 3.5"/>
<line x1="1045.2" y1="295.5" x2="1802" y2="295.5" stroke="#e4e4e4" stroke-width="1" stroke-linecap="butt" stroke-dasharray="3.5 3.5"/>
<line x1="1045.2" y1="264.5" x2="1802" y2="264.5" stroke="#e4e4e4" stroke-width="1" stroke-linecap="butt" stroke-dasharray="3.5 3.5"/>
<line x1="1045.2" y1="233.6" x2="1802" y2="233.6" stroke="#e4e4e4" stroke-width="1" stroke-linecap="butt" stroke-dasharray="3.5 3.5"/>
<line x1="1045.2" y1="202.6" x2="1802" y2="202.6" stroke="#e4e4e4" stroke-width="1" stroke-linecap="butt" stroke-dasharray="3.5 3.5"/>
<line x1="1045.2" y1="140.6" x2="1802" y2="140.6" stroke="#e4e4e4" stroke-width="1" stroke-linecap="butt" stroke-dasharray="3.5 3.5"/>
<line x1="1045.2" y1="109.6" x2="1802" y2="109.6" stroke="#e4e4e4" stroke-width="1" stroke-linecap="butt" stroke-dasharray="3.5 3.5"/>
<line x1="1045.2" y1="78.7" x2="1802" y2="78.7" stroke="#e4e4e4" stroke-width="1" stroke-linecap="butt" stroke-dasharray="3.5 3.5"/>
<line x1="1045.2" y1="47.7" x2="1802" y2="47.7" stroke="#e4e4e4" stroke-width="1" stroke-linecap="butt" stroke-dasharray="3.5 3.5"/>
<line x1="1232.2" y1="16.7" x2="1232.2" y2="636.3" stroke="#8c8c8c" stroke-width="1.4" stroke-linecap="butt"/>
<line x1="1517" y1="16.7" x2="1517" y2="636.3" stroke="#8c8c8c" stroke-width="1.4" stroke-linecap="butt"/>
<line x1="1045.2" y1="481.4" x2="1802" y2="481.4" stroke="#8c8c8c" stroke-width="1.4" stroke-linecap="butt"/>
<line x1="1045.2" y1="326.5" x2="1802" y2="326.5" stroke="#8c8c8c" stroke-width="1.4" stroke-linecap="butt"/>
<line x1="1045.2" y1="171.6" x2="1802" y2="171.6" stroke="#8c8c8c" stroke-width="1.4" stroke-linecap="butt"/>
<clipPath id="cb"><rect x="1045.2" y="16.7" width="756.8" height="619.6"/></clipPath>
<g clip-path="url(#cb)">
<line x1="1120.7" y1="168.6" x2="1153.1" y2="198.2" stroke="#cc0000" stroke-width="3.6" stroke-linecap="round"/>
<line x1="1180.5" y1="221.6" x2="1191.9" y2="230.6" stroke="#cc0000" stroke-width="3.6" stroke-linecap="round"/>
<line x1="1220.5" y1="252.5" x2="1245" y2="270.8" stroke="#cc0000" stroke-width="3.6" stroke-linecap="round"/>
<line x1="1274.2" y1="291.9" x2="1281.7" y2="297.4" stroke="#cc0000" stroke-width="3.6" stroke-linecap="round"/>
<line x1="1310.7" y1="318.7" x2="1322.9" y2="328" stroke="#cc0000" stroke-width="3.6" stroke-linecap="round"/>
<line x1="1351.9" y1="349.3" x2="1405" y2="386.8" stroke="#cc0000" stroke-width="3.6" stroke-linecap="round"/>
<line x1="1434.1" y1="408" x2="1489" y2="449" stroke="#cc0000" stroke-width="3.6" stroke-linecap="round"/>
<line x1="1517.3" y1="471.3" x2="1601.9" y2="541.1" stroke="#cc0000" stroke-width="3.6" stroke-linecap="round"/>
<line x1="1623.6" y1="568.8" x2="1658" y2="640.4" stroke="#cc0000" stroke-width="3.6" stroke-linecap="round"/>
<line x1="1122.2" y1="86.6" x2="1157.1" y2="131.9" stroke="#ff9999" stroke-width="3.6" stroke-linecap="round"/>
<line x1="1179.9" y1="159.7" x2="1195" y2="176.9" stroke="#ff9999" stroke-width="3.6" stroke-linecap="round"/>
<line x1="1219.1" y1="203.6" x2="1247.2" y2="233.7" stroke="#ff9999" stroke-width="3.6" stroke-linecap="round"/>
<line x1="1272.3" y1="259.4" x2="1283.6" y2="270.6" stroke="#ff9999" stroke-width="3.6" stroke-linecap="round"/>
<line x1="1308.8" y1="296.3" x2="1325.3" y2="313.6" stroke="#ff9999" stroke-width="3.6" stroke-linecap="round"/>
<line x1="1350" y1="339.8" x2="1407.4" y2="400.8" stroke="#ff9999" stroke-width="3.6" stroke-linecap="round"/>
<line x1="1432.5" y1="426.6" x2="1489.4" y2="482.9" stroke="#ff9999" stroke-width="3.6" stroke-linecap="round"/>
<line x1="1512.4" y1="510.5" x2="1605.1" y2="646.1" stroke="#ff9999" stroke-width="3.6" stroke-linecap="round"/>
<line x1="1216.3" y1="142.5" x2="1249.5" y2="177.2" stroke="#0510c8" stroke-width="3.6" stroke-linecap="round"/>
<line x1="1275.8" y1="201.8" x2="1287.6" y2="211.6" stroke="#0510c8" stroke-width="3.6" stroke-linecap="round"/>
<line x1="1315.5" y1="234.4" x2="1341.4" y2="254.7" stroke="#0510c8" stroke-width="3.6" stroke-linecap="round"/>
<line x1="1370.4" y1="276" x2="1383" y2="284.4" stroke="#0510c8" stroke-width="3.6" stroke-linecap="round"/>
<line x1="1411.4" y1="306.4" x2="1420.1" y2="314.2" stroke="#0510c8" stroke-width="3.6" stroke-linecap="round"/>
<line x1="1447.9" y1="337.1" x2="1501.2" y2="377.9" stroke="#0510c8" stroke-width="3.6" stroke-linecap="round"/>
<line x1="1529.1" y1="400.6" x2="1585.9" y2="449.5" stroke="#0510c8" stroke-width="3.6" stroke-linecap="round"/>
<line x1="1613.4" y1="472.6" x2="1697.4" y2="541.6" stroke="#0510c8" stroke-width="3.6" stroke-linecap="round"/>
<line x1="1719.6" y1="569" x2="1752.7" y2="633" stroke="#0510c8" stroke-width="3.6" stroke-linecap="round"/>
<line x1="1227.7" y1="173.1" x2="1263.8" y2="221.8" stroke="#8f9bff" stroke-width="3.6" stroke-linecap="round"/>
<line x1="1284.9" y1="251" x2="1302.6" y2="276" stroke="#8f9bff" stroke-width="3.6" stroke-linecap="round"/>
<line x1="1327.1" y1="301.9" x2="1353" y2="322.4" stroke="#8f9bff" stroke-width="3.6" stroke-linecap="round"/>
<line x1="1380.7" y1="345.4" x2="1390.9" y2="354.2" stroke="#8f9bff" stroke-width="3.6" stroke-linecap="round"/>
<line x1="1414.5" y1="381" x2="1435.4" y2="412" stroke="#8f9bff" stroke-width="3.6" stroke-linecap="round"/>
<line x1="1458.7" y1="439.2" x2="1513" y2="488.9" stroke="#8f9bff" stroke-width="3.6" stroke-linecap="round"/>
<line x1="1540.2" y1="512.6" x2="1596.8" y2="559.5" stroke="#8f9bff" stroke-width="3.6" stroke-linecap="round"/>
<line x1="1627.2" y1="578.2" x2="1706.2" y2="612.8" stroke="#8f9bff" stroke-width="3.6" stroke-linecap="round"/>
<circle cx="1107.4" cy="156.4" r="12.6" fill="#cc0000"/>
<circle cx="1166.4" cy="210.4" r="12.6" fill="#cc0000"/>
<circle cx="1206" cy="241.8" r="12.6" fill="#cc0000"/>
<circle cx="1259.5" cy="281.5" r="12.6" fill="#cc0000"/>
<circle cx="1296.4" cy="307.8" r="12.6" fill="#cc0000"/>
<circle cx="1337.2" cy="338.9" r="12.6" fill="#cc0000"/>
<circle cx="1419.7" cy="397.2" r="12.6" fill="#cc0000"/>
<circle cx="1503.4" cy="459.8" r="12.6" fill="#cc0000"/>
<circle cx="1615.8" cy="552.6" r="12.6" fill="#cc0000"/>
<circle cx="1665.8" cy="656.6" r="12.6" fill="#cc0000"/>
<circle cx="1111.2" cy="72.4" r="12.6" fill="#ff9999"/>
<circle cx="1168.1" cy="146.1" r="12.6" fill="#ff9999"/>
<circle cx="1206.8" cy="190.5" r="12.6" fill="#ff9999"/>
<circle cx="1259.5" cy="246.8" r="12.6" fill="#ff9999"/>
<circle cx="1296.4" cy="283.2" r="12.6" fill="#ff9999"/>
<circle cx="1337.7" cy="326.7" r="12.6" fill="#ff9999"/>
<circle cx="1419.7" cy="413.9" r="12.6" fill="#ff9999"/>
<circle cx="1502.2" cy="495.6" r="12.6" fill="#ff9999"/>
<circle cx="1615.3" cy="661" r="12.6" fill="#ff9999"/>
<path d="M1189.3 138L1218.3 138L1203.8 112.5Z" fill="#0510c8"/>
<path d="M1247.5 198.7L1276.5 198.7L1262 173.2Z" fill="#0510c8"/>
<path d="M1286.9 231.7L1315.9 231.7L1301.4 206.2Z" fill="#0510c8"/>
<path d="M1341 274.4L1370 274.4L1355.5 248.9Z" fill="#0510c8"/>
<path d="M1383.4 303L1412.4 303L1397.9 277.5Z" fill="#0510c8"/>
<path d="M1419.1 334.6L1448.1 334.6L1433.6 309.1Z" fill="#0510c8"/>
<path d="M1501 397.4L1530 397.4L1515.5 371.9Z" fill="#0510c8"/>
<path d="M1585 469.7L1614 469.7L1599.5 444.2Z" fill="#0510c8"/>
<path d="M1696.8 561.5L1725.8 561.5L1711.3 536Z" fill="#0510c8"/>
<path d="M1746.5 657.5L1775.5 657.5L1761 632Z" fill="#0510c8"/>
<line x1="1203.8" y1="137.5" x2="1203.8" y2="144.5" stroke="#0510c8" stroke-width="2.6" stroke-linecap="butt"/>
<line x1="1197" y1="114.5" x2="1210.5" y2="114.5" stroke="#0510c8" stroke-width="2.6" stroke-linecap="butt"/>
<line x1="1197" y1="144.5" x2="1210.5" y2="144.5" stroke="#0510c8" stroke-width="2.6" stroke-linecap="butt"/>
<line x1="1262" y1="172.7" x2="1262" y2="175.2" stroke="#0510c8" stroke-width="2.6" stroke-linecap="butt"/>
<line x1="1262" y1="198.2" x2="1262" y2="207.7" stroke="#0510c8" stroke-width="2.6" stroke-linecap="butt"/>
<line x1="1255.2" y1="172.7" x2="1268.8" y2="172.7" stroke="#0510c8" stroke-width="2.6" stroke-linecap="butt"/>
<line x1="1255.2" y1="207.7" x2="1268.8" y2="207.7" stroke="#0510c8" stroke-width="2.6" stroke-linecap="butt"/>
<line x1="1301.4" y1="206.2" x2="1301.4" y2="208.2" stroke="#0510c8" stroke-width="2.6" stroke-linecap="butt"/>
<line x1="1301.4" y1="231.2" x2="1301.4" y2="240.2" stroke="#0510c8" stroke-width="2.6" stroke-linecap="butt"/>
<line x1="1294.7" y1="206.2" x2="1308.2" y2="206.2" stroke="#0510c8" stroke-width="2.6" stroke-linecap="butt"/>
<line x1="1294.7" y1="240.2" x2="1308.2" y2="240.2" stroke="#0510c8" stroke-width="2.6" stroke-linecap="butt"/>
<line x1="1355.5" y1="249.1" x2="1355.5" y2="250.9" stroke="#0510c8" stroke-width="2.6" stroke-linecap="butt"/>
<line x1="1355.5" y1="273.9" x2="1355.5" y2="282.7" stroke="#0510c8" stroke-width="2.6" stroke-linecap="butt"/>
<line x1="1348.8" y1="249.1" x2="1362.2" y2="249.1" stroke="#0510c8" stroke-width="2.6" stroke-linecap="butt"/>
<line x1="1348.8" y1="282.7" x2="1362.2" y2="282.7" stroke="#0510c8" stroke-width="2.6" stroke-linecap="butt"/>
<line x1="1397.9" y1="278.1" x2="1397.9" y2="279.5" stroke="#0510c8" stroke-width="2.6" stroke-linecap="butt"/>
<line x1="1397.9" y1="302.5" x2="1397.9" y2="310.9" stroke="#0510c8" stroke-width="2.6" stroke-linecap="butt"/>
<line x1="1391.2" y1="278.1" x2="1404.7" y2="278.1" stroke="#0510c8" stroke-width="2.6" stroke-linecap="butt"/>
<line x1="1391.2" y1="310.9" x2="1404.7" y2="310.9" stroke="#0510c8" stroke-width="2.6" stroke-linecap="butt"/>
<line x1="1433.6" y1="310.6" x2="1433.6" y2="311.1" stroke="#0510c8" stroke-width="2.6" stroke-linecap="butt"/>
<line x1="1433.6" y1="334.1" x2="1433.6" y2="341.6" stroke="#0510c8" stroke-width="2.6" stroke-linecap="butt"/>
<line x1="1426.8" y1="310.6" x2="1440.3" y2="310.6" stroke="#0510c8" stroke-width="2.6" stroke-linecap="butt"/>
<line x1="1426.8" y1="341.6" x2="1440.3" y2="341.6" stroke="#0510c8" stroke-width="2.6" stroke-linecap="butt"/>
<line x1="1515.5" y1="372.9" x2="1515.5" y2="373.9" stroke="#0510c8" stroke-width="2.6" stroke-linecap="butt"/>
<line x1="1515.5" y1="396.9" x2="1515.5" y2="404.9" stroke="#0510c8" stroke-width="2.6" stroke-linecap="butt"/>
<line x1="1508.8" y1="372.9" x2="1522.2" y2="372.9" stroke="#0510c8" stroke-width="2.6" stroke-linecap="butt"/>
<line x1="1508.8" y1="404.9" x2="1522.2" y2="404.9" stroke="#0510c8" stroke-width="2.6" stroke-linecap="butt"/>
<line x1="1599.5" y1="469.2" x2="1599.5" y2="474.2" stroke="#0510c8" stroke-width="2.6" stroke-linecap="butt"/>
<line x1="1592.8" y1="448.2" x2="1606.2" y2="448.2" stroke="#0510c8" stroke-width="2.6" stroke-linecap="butt"/>
<line x1="1592.8" y1="474.2" x2="1606.2" y2="474.2" stroke="#0510c8" stroke-width="2.6" stroke-linecap="butt"/>
<line x1="1711.3" y1="561" x2="1711.3" y2="562" stroke="#0510c8" stroke-width="2.6" stroke-linecap="butt"/>
<line x1="1704.5" y1="544" x2="1718" y2="544" stroke="#0510c8" stroke-width="2.6" stroke-linecap="butt"/>
<line x1="1704.5" y1="562" x2="1718" y2="562" stroke="#0510c8" stroke-width="2.6" stroke-linecap="butt"/>
<line x1="1761" y1="657" x2="1761" y2="661" stroke="#0510c8" stroke-width="2.6" stroke-linecap="butt"/>
<line x1="1754.2" y1="637" x2="1767.8" y2="637" stroke="#0510c8" stroke-width="2.6" stroke-linecap="butt"/>
<line x1="1754.2" y1="661" x2="1767.8" y2="661" stroke="#0510c8" stroke-width="2.6" stroke-linecap="butt"/>
<line x1="1615.3" y1="612" x2="1615.3" y2="648.6" stroke="#ff7f7f" stroke-width="2" stroke-linecap="butt"/>
<line x1="1615.3" y1="673.4" x2="1615.3" y2="710" stroke="#ff7f7f" stroke-width="2" stroke-linecap="butt"/>
<line x1="1608.5" y1="612" x2="1622" y2="612" stroke="#ff7f7f" stroke-width="2" stroke-linecap="butt"/>
<line x1="1608.5" y1="710" x2="1622" y2="710" stroke="#ff7f7f" stroke-width="2" stroke-linecap="butt"/>
<path d="M1202.5 167.1L1231.5 167.1L1217 141.6Z" fill="#8f9bff"/>
<line x1="1210.2" y1="152.6" x2="1223.8" y2="152.6" stroke="#8f9bff" stroke-width="2.2" stroke-linecap="butt"/>
<line x1="1210.2" y1="164.6" x2="1223.8" y2="164.6" stroke="#8f9bff" stroke-width="2.2" stroke-linecap="butt"/>
<line x1="1202.5" y1="160.6" x2="1231.5" y2="160.6" stroke="#8f9bff" stroke-width="2.6" stroke-linecap="butt"/>
<line x1="1202.5" y1="154.1" x2="1202.5" y2="167.1" stroke="#8f9bff" stroke-width="2.6" stroke-linecap="butt"/>
<line x1="1231.5" y1="154.1" x2="1231.5" y2="167.1" stroke="#8f9bff" stroke-width="2.6" stroke-linecap="butt"/>
<path d="M1260 244.8L1289 244.8L1274.5 219.3Z" fill="#8f9bff"/>
<line x1="1267.8" y1="230.3" x2="1281.2" y2="230.3" stroke="#8f9bff" stroke-width="2.2" stroke-linecap="butt"/>
<line x1="1267.8" y1="242.3" x2="1281.2" y2="242.3" stroke="#8f9bff" stroke-width="2.2" stroke-linecap="butt"/>
<line x1="1260" y1="238.3" x2="1289" y2="238.3" stroke="#8f9bff" stroke-width="2.6" stroke-linecap="butt"/>
<line x1="1260" y1="231.8" x2="1260" y2="244.8" stroke="#8f9bff" stroke-width="2.6" stroke-linecap="butt"/>
<line x1="1289" y1="231.8" x2="1289" y2="244.8" stroke="#8f9bff" stroke-width="2.6" stroke-linecap="butt"/>
<path d="M1298.5 299.2L1327.5 299.2L1313 273.7Z" fill="#8f9bff"/>
<line x1="1313" y1="274.7" x2="1313" y2="275.7" stroke="#8f9bff" stroke-width="2.2" stroke-linecap="butt"/>
<line x1="1313" y1="298.7" x2="1313" y2="306.7" stroke="#8f9bff" stroke-width="2.2" stroke-linecap="butt"/>
<line x1="1306.2" y1="274.7" x2="1319.8" y2="274.7" stroke="#8f9bff" stroke-width="2.2" stroke-linecap="butt"/>
<line x1="1306.2" y1="306.7" x2="1319.8" y2="306.7" stroke="#8f9bff" stroke-width="2.2" stroke-linecap="butt"/>
<line x1="1298.5" y1="292.7" x2="1327.5" y2="292.7" stroke="#8f9bff" stroke-width="2.6" stroke-linecap="butt"/>
<line x1="1298.5" y1="286.2" x2="1298.5" y2="299.2" stroke="#8f9bff" stroke-width="2.6" stroke-linecap="butt"/>
<line x1="1327.5" y1="286.2" x2="1327.5" y2="299.2" stroke="#8f9bff" stroke-width="2.6" stroke-linecap="butt"/>
<path d="M1352.6 342.1L1381.6 342.1L1367.1 316.6Z" fill="#8f9bff"/>
<line x1="1360.3" y1="327.6" x2="1373.8" y2="327.6" stroke="#8f9bff" stroke-width="2.2" stroke-linecap="butt"/>
<line x1="1360.3" y1="339.6" x2="1373.8" y2="339.6" stroke="#8f9bff" stroke-width="2.2" stroke-linecap="butt"/>
<line x1="1352.6" y1="335.6" x2="1381.6" y2="335.6" stroke="#8f9bff" stroke-width="2.6" stroke-linecap="butt"/>
<line x1="1352.6" y1="329.1" x2="1352.6" y2="342.1" stroke="#8f9bff" stroke-width="2.6" stroke-linecap="butt"/>
<line x1="1381.6" y1="329.1" x2="1381.6" y2="342.1" stroke="#8f9bff" stroke-width="2.6" stroke-linecap="butt"/>
<path d="M1390 374.5L1419 374.5L1404.5 349Z" fill="#8f9bff"/>
<line x1="1404.5" y1="374" x2="1404.5" y2="381" stroke="#8f9bff" stroke-width="2.2" stroke-linecap="butt"/>
<line x1="1397.8" y1="351" x2="1411.2" y2="351" stroke="#8f9bff" stroke-width="2.2" stroke-linecap="butt"/>
<line x1="1397.8" y1="381" x2="1411.2" y2="381" stroke="#8f9bff" stroke-width="2.2" stroke-linecap="butt"/>
<line x1="1390" y1="368" x2="1419" y2="368" stroke="#8f9bff" stroke-width="2.6" stroke-linecap="butt"/>
<line x1="1390" y1="361.5" x2="1390" y2="374.5" stroke="#8f9bff" stroke-width="2.6" stroke-linecap="butt"/>
<line x1="1419" y1="361.5" x2="1419" y2="374.5" stroke="#8f9bff" stroke-width="2.6" stroke-linecap="butt"/>
<path d="M1430.9 435.5L1459.9 435.5L1445.4 410Z" fill="#8f9bff"/>
<line x1="1445.4" y1="395.4" x2="1445.4" y2="412" stroke="#8f9bff" stroke-width="2.2" stroke-linecap="butt"/>
<line x1="1445.4" y1="435" x2="1445.4" y2="458.6" stroke="#8f9bff" stroke-width="2.2" stroke-linecap="butt"/>
<line x1="1438.7" y1="395.4" x2="1452.2" y2="395.4" stroke="#8f9bff" stroke-width="2.2" stroke-linecap="butt"/>
<line x1="1438.7" y1="458.6" x2="1452.2" y2="458.6" stroke="#8f9bff" stroke-width="2.2" stroke-linecap="butt"/>
<line x1="1430.9" y1="429" x2="1459.9" y2="429" stroke="#8f9bff" stroke-width="2.6" stroke-linecap="butt"/>
<line x1="1430.9" y1="422.5" x2="1430.9" y2="435.5" stroke="#8f9bff" stroke-width="2.6" stroke-linecap="butt"/>
<line x1="1459.9" y1="422.5" x2="1459.9" y2="435.5" stroke="#8f9bff" stroke-width="2.6" stroke-linecap="butt"/>
<path d="M1511.8 509.6L1540.8 509.6L1526.3 484.1Z" fill="#8f9bff"/>
<line x1="1526.3" y1="459.4" x2="1526.3" y2="486.1" stroke="#8f9bff" stroke-width="2.2" stroke-linecap="butt"/>
<line x1="1526.3" y1="509.1" x2="1526.3" y2="542.8" stroke="#8f9bff" stroke-width="2.2" stroke-linecap="butt"/>
<line x1="1519.5" y1="459.4" x2="1533" y2="459.4" stroke="#8f9bff" stroke-width="2.2" stroke-linecap="butt"/>
<line x1="1519.5" y1="542.8" x2="1533" y2="542.8" stroke="#8f9bff" stroke-width="2.2" stroke-linecap="butt"/>
<line x1="1511.8" y1="503.1" x2="1540.8" y2="503.1" stroke="#8f9bff" stroke-width="2.6" stroke-linecap="butt"/>
<line x1="1511.8" y1="496.6" x2="1511.8" y2="509.6" stroke="#8f9bff" stroke-width="2.6" stroke-linecap="butt"/>
<line x1="1540.8" y1="496.6" x2="1540.8" y2="509.6" stroke="#8f9bff" stroke-width="2.6" stroke-linecap="butt"/>
<path d="M1596.2 579.5L1625.2 579.5L1610.7 554Z" fill="#8f9bff"/>
<line x1="1610.7" y1="527" x2="1610.7" y2="556" stroke="#8f9bff" stroke-width="2.2" stroke-linecap="butt"/>
<line x1="1610.7" y1="579" x2="1610.7" y2="615" stroke="#8f9bff" stroke-width="2.2" stroke-linecap="butt"/>
<line x1="1604" y1="527" x2="1617.5" y2="527" stroke="#8f9bff" stroke-width="2.2" stroke-linecap="butt"/>
<line x1="1604" y1="615" x2="1617.5" y2="615" stroke="#8f9bff" stroke-width="2.2" stroke-linecap="butt"/>
<line x1="1596.2" y1="573" x2="1625.2" y2="573" stroke="#8f9bff" stroke-width="2.6" stroke-linecap="butt"/>
<line x1="1596.2" y1="566.5" x2="1596.2" y2="579.5" stroke="#8f9bff" stroke-width="2.6" stroke-linecap="butt"/>
<line x1="1625.2" y1="566.5" x2="1625.2" y2="579.5" stroke="#8f9bff" stroke-width="2.6" stroke-linecap="butt"/>
<path d="M1708.2 628.5L1737.2 628.5L1722.7 603Z" fill="#8f9bff"/>
<line x1="1722.7" y1="592" x2="1722.7" y2="605" stroke="#8f9bff" stroke-width="2.2" stroke-linecap="butt"/>
<line x1="1722.7" y1="628" x2="1722.7" y2="648" stroke="#8f9bff" stroke-width="2.2" stroke-linecap="butt"/>
<line x1="1716" y1="592" x2="1729.5" y2="592" stroke="#8f9bff" stroke-width="2.2" stroke-linecap="butt"/>
<line x1="1716" y1="648" x2="1729.5" y2="648" stroke="#8f9bff" stroke-width="2.2" stroke-linecap="butt"/>
<line x1="1708.2" y1="622" x2="1737.2" y2="622" stroke="#8f9bff" stroke-width="2.6" stroke-linecap="butt"/>
<line x1="1708.2" y1="615.5" x2="1708.2" y2="628.5" stroke="#8f9bff" stroke-width="2.6" stroke-linecap="butt"/>
<line x1="1737.2" y1="615.5" x2="1737.2" y2="628.5" stroke="#8f9bff" stroke-width="2.6" stroke-linecap="butt"/>
<line x1="1045.2" y1="30.7" x2="1802" y2="606.7" stroke="#ff0000" stroke-width="7.6" stroke-linecap="butt"/>
</g>
<line x1="1083.2" y1="636.3" x2="1083.2" y2="642.5" stroke="#000" stroke-width="4" stroke-linecap="butt"/>
<line x1="1083.2" y1="16.7" x2="1083.2" y2="22.9" stroke="#000" stroke-width="4" stroke-linecap="butt"/>
<line x1="1118.8" y1="636.3" x2="1118.8" y2="642.5" stroke="#000" stroke-width="4" stroke-linecap="butt"/>
<line x1="1118.8" y1="16.7" x2="1118.8" y2="22.9" stroke="#000" stroke-width="4" stroke-linecap="butt"/>
<line x1="1146.4" y1="636.3" x2="1146.4" y2="642.5" stroke="#000" stroke-width="4" stroke-linecap="butt"/>
<line x1="1146.4" y1="16.7" x2="1146.4" y2="22.9" stroke="#000" stroke-width="4" stroke-linecap="butt"/>
<line x1="1169" y1="636.3" x2="1169" y2="642.5" stroke="#000" stroke-width="4" stroke-linecap="butt"/>
<line x1="1169" y1="16.7" x2="1169" y2="22.9" stroke="#000" stroke-width="4" stroke-linecap="butt"/>
<line x1="1188" y1="636.3" x2="1188" y2="642.5" stroke="#000" stroke-width="4" stroke-linecap="butt"/>
<line x1="1188" y1="16.7" x2="1188" y2="22.9" stroke="#000" stroke-width="4" stroke-linecap="butt"/>
<line x1="1204.5" y1="636.3" x2="1204.5" y2="642.5" stroke="#000" stroke-width="4" stroke-linecap="butt"/>
<line x1="1204.5" y1="16.7" x2="1204.5" y2="22.9" stroke="#000" stroke-width="4" stroke-linecap="butt"/>
<line x1="1219.1" y1="636.3" x2="1219.1" y2="642.5" stroke="#000" stroke-width="4" stroke-linecap="butt"/>
<line x1="1219.1" y1="16.7" x2="1219.1" y2="22.9" stroke="#000" stroke-width="4" stroke-linecap="butt"/>
<line x1="1232.2" y1="636.3" x2="1232.2" y2="648.8" stroke="#000" stroke-width="4" stroke-linecap="butt"/>
<line x1="1232.2" y1="16.7" x2="1232.2" y2="29.2" stroke="#000" stroke-width="4" stroke-linecap="butt"/>
<line x1="1317.9" y1="636.3" x2="1317.9" y2="642.5" stroke="#000" stroke-width="4" stroke-linecap="butt"/>
<line x1="1317.9" y1="16.7" x2="1317.9" y2="22.9" stroke="#000" stroke-width="4" stroke-linecap="butt"/>
<line x1="1368.1" y1="636.3" x2="1368.1" y2="642.5" stroke="#000" stroke-width="4" stroke-linecap="butt"/>
<line x1="1368.1" y1="16.7" x2="1368.1" y2="22.9" stroke="#000" stroke-width="4" stroke-linecap="butt"/>
<line x1="1403.6" y1="636.3" x2="1403.6" y2="642.5" stroke="#000" stroke-width="4" stroke-linecap="butt"/>
<line x1="1403.6" y1="16.7" x2="1403.6" y2="22.9" stroke="#000" stroke-width="4" stroke-linecap="butt"/>
<line x1="1431.3" y1="636.3" x2="1431.3" y2="642.5" stroke="#000" stroke-width="4" stroke-linecap="butt"/>
<line x1="1431.3" y1="16.7" x2="1431.3" y2="22.9" stroke="#000" stroke-width="4" stroke-linecap="butt"/>
<line x1="1453.8" y1="636.3" x2="1453.8" y2="642.5" stroke="#000" stroke-width="4" stroke-linecap="butt"/>
<line x1="1453.8" y1="16.7" x2="1453.8" y2="22.9" stroke="#000" stroke-width="4" stroke-linecap="butt"/>
<line x1="1472.9" y1="636.3" x2="1472.9" y2="642.5" stroke="#000" stroke-width="4" stroke-linecap="butt"/>
<line x1="1472.9" y1="16.7" x2="1472.9" y2="22.9" stroke="#000" stroke-width="4" stroke-linecap="butt"/>
<line x1="1489.4" y1="636.3" x2="1489.4" y2="642.5" stroke="#000" stroke-width="4" stroke-linecap="butt"/>
<line x1="1489.4" y1="16.7" x2="1489.4" y2="22.9" stroke="#000" stroke-width="4" stroke-linecap="butt"/>
<line x1="1504" y1="636.3" x2="1504" y2="642.5" stroke="#000" stroke-width="4" stroke-linecap="butt"/>
<line x1="1504" y1="16.7" x2="1504" y2="22.9" stroke="#000" stroke-width="4" stroke-linecap="butt"/>
<line x1="1517" y1="636.3" x2="1517" y2="648.8" stroke="#000" stroke-width="4" stroke-linecap="butt"/>
<line x1="1517" y1="16.7" x2="1517" y2="29.2" stroke="#000" stroke-width="4" stroke-linecap="butt"/>
<line x1="1602.7" y1="636.3" x2="1602.7" y2="642.5" stroke="#000" stroke-width="4" stroke-linecap="butt"/>
<line x1="1602.7" y1="16.7" x2="1602.7" y2="22.9" stroke="#000" stroke-width="4" stroke-linecap="butt"/>
<line x1="1652.9" y1="636.3" x2="1652.9" y2="642.5" stroke="#000" stroke-width="4" stroke-linecap="butt"/>
<line x1="1652.9" y1="16.7" x2="1652.9" y2="22.9" stroke="#000" stroke-width="4" stroke-linecap="butt"/>
<line x1="1688.5" y1="636.3" x2="1688.5" y2="642.5" stroke="#000" stroke-width="4" stroke-linecap="butt"/>
<line x1="1688.5" y1="16.7" x2="1688.5" y2="22.9" stroke="#000" stroke-width="4" stroke-linecap="butt"/>
<line x1="1716.1" y1="636.3" x2="1716.1" y2="642.5" stroke="#000" stroke-width="4" stroke-linecap="butt"/>
<line x1="1716.1" y1="16.7" x2="1716.1" y2="22.9" stroke="#000" stroke-width="4" stroke-linecap="butt"/>
<line x1="1738.7" y1="636.3" x2="1738.7" y2="642.5" stroke="#000" stroke-width="4" stroke-linecap="butt"/>
<line x1="1738.7" y1="16.7" x2="1738.7" y2="22.9" stroke="#000" stroke-width="4" stroke-linecap="butt"/>
<line x1="1757.7" y1="636.3" x2="1757.7" y2="642.5" stroke="#000" stroke-width="4" stroke-linecap="butt"/>
<line x1="1757.7" y1="16.7" x2="1757.7" y2="22.9" stroke="#000" stroke-width="4" stroke-linecap="butt"/>
<line x1="1774.2" y1="636.3" x2="1774.2" y2="642.5" stroke="#000" stroke-width="4" stroke-linecap="butt"/>
<line x1="1774.2" y1="16.7" x2="1774.2" y2="22.9" stroke="#000" stroke-width="4" stroke-linecap="butt"/>
<line x1="1788.8" y1="636.3" x2="1788.8" y2="642.5" stroke="#000" stroke-width="4" stroke-linecap="butt"/>
<line x1="1788.8" y1="16.7" x2="1788.8" y2="22.9" stroke="#000" stroke-width="4" stroke-linecap="butt"/>
<line x1="1801.8" y1="636.3" x2="1801.8" y2="648.8" stroke="#000" stroke-width="4" stroke-linecap="butt"/>
<line x1="1801.8" y1="16.7" x2="1801.8" y2="29.2" stroke="#000" stroke-width="4" stroke-linecap="butt"/>
<line x1="1045.2" y1="636.3" x2="1032.7" y2="636.3" stroke="#000" stroke-width="4" stroke-linecap="butt"/>
<line x1="1802" y1="636.3" x2="1789.5" y2="636.3" stroke="#000" stroke-width="4" stroke-linecap="butt"/>
<line x1="1045.2" y1="605.3" x2="1039" y2="605.3" stroke="#000" stroke-width="4" stroke-linecap="butt"/>
<line x1="1802" y1="605.3" x2="1795.8" y2="605.3" stroke="#000" stroke-width="4" stroke-linecap="butt"/>
<line x1="1045.2" y1="574.3" x2="1039" y2="574.3" stroke="#000" stroke-width="4" stroke-linecap="butt"/>
<line x1="1802" y1="574.3" x2="1795.8" y2="574.3" stroke="#000" stroke-width="4" stroke-linecap="butt"/>
<line x1="1045.2" y1="543.4" x2="1039" y2="543.4" stroke="#000" stroke-width="4" stroke-linecap="butt"/>
<line x1="1802" y1="543.4" x2="1795.8" y2="543.4" stroke="#000" stroke-width="4" stroke-linecap="butt"/>
<line x1="1045.2" y1="512.4" x2="1039" y2="512.4" stroke="#000" stroke-width="4" stroke-linecap="butt"/>
<line x1="1802" y1="512.4" x2="1795.8" y2="512.4" stroke="#000" stroke-width="4" stroke-linecap="butt"/>
<line x1="1045.2" y1="481.4" x2="1032.7" y2="481.4" stroke="#000" stroke-width="4" stroke-linecap="butt"/>
<line x1="1802" y1="481.4" x2="1789.5" y2="481.4" stroke="#000" stroke-width="4" stroke-linecap="butt"/>
<line x1="1045.2" y1="450.4" x2="1039" y2="450.4" stroke="#000" stroke-width="4" stroke-linecap="butt"/>
<line x1="1802" y1="450.4" x2="1795.8" y2="450.4" stroke="#000" stroke-width="4" stroke-linecap="butt"/>
<line x1="1045.2" y1="419.4" x2="1039" y2="419.4" stroke="#000" stroke-width="4" stroke-linecap="butt"/>
<line x1="1802" y1="419.4" x2="1795.8" y2="419.4" stroke="#000" stroke-width="4" stroke-linecap="butt"/>
<line x1="1045.2" y1="388.5" x2="1039" y2="388.5" stroke="#000" stroke-width="4" stroke-linecap="butt"/>
<line x1="1802" y1="388.5" x2="1795.8" y2="388.5" stroke="#000" stroke-width="4" stroke-linecap="butt"/>
<line x1="1045.2" y1="357.5" x2="1039" y2="357.5" stroke="#000" stroke-width="4" stroke-linecap="butt"/>
<line x1="1802" y1="357.5" x2="1795.8" y2="357.5" stroke="#000" stroke-width="4" stroke-linecap="butt"/>
<line x1="1045.2" y1="326.5" x2="1032.7" y2="326.5" stroke="#000" stroke-width="4" stroke-linecap="butt"/>
<line x1="1802" y1="326.5" x2="1789.5" y2="326.5" stroke="#000" stroke-width="4" stroke-linecap="butt"/>
<line x1="1045.2" y1="295.5" x2="1039" y2="295.5" stroke="#000" stroke-width="4" stroke-linecap="butt"/>
<line x1="1802" y1="295.5" x2="1795.8" y2="295.5" stroke="#000" stroke-width="4" stroke-linecap="butt"/>
<line x1="1045.2" y1="264.5" x2="1039" y2="264.5" stroke="#000" stroke-width="4" stroke-linecap="butt"/>
<line x1="1802" y1="264.5" x2="1795.8" y2="264.5" stroke="#000" stroke-width="4" stroke-linecap="butt"/>
<line x1="1045.2" y1="233.6" x2="1039" y2="233.6" stroke="#000" stroke-width="4" stroke-linecap="butt"/>
<line x1="1802" y1="233.6" x2="1795.8" y2="233.6" stroke="#000" stroke-width="4" stroke-linecap="butt"/>
<line x1="1045.2" y1="202.6" x2="1039" y2="202.6" stroke="#000" stroke-width="4" stroke-linecap="butt"/>
<line x1="1802" y1="202.6" x2="1795.8" y2="202.6" stroke="#000" stroke-width="4" stroke-linecap="butt"/>
<line x1="1045.2" y1="171.6" x2="1032.7" y2="171.6" stroke="#000" stroke-width="4" stroke-linecap="butt"/>
<line x1="1802" y1="171.6" x2="1789.5" y2="171.6" stroke="#000" stroke-width="4" stroke-linecap="butt"/>
<line x1="1045.2" y1="140.6" x2="1039" y2="140.6" stroke="#000" stroke-width="4" stroke-linecap="butt"/>
<line x1="1802" y1="140.6" x2="1795.8" y2="140.6" stroke="#000" stroke-width="4" stroke-linecap="butt"/>
<line x1="1045.2" y1="109.6" x2="1039" y2="109.6" stroke="#000" stroke-width="4" stroke-linecap="butt"/>
<line x1="1802" y1="109.6" x2="1795.8" y2="109.6" stroke="#000" stroke-width="4" stroke-linecap="butt"/>
<line x1="1045.2" y1="78.7" x2="1039" y2="78.7" stroke="#000" stroke-width="4" stroke-linecap="butt"/>
<line x1="1802" y1="78.7" x2="1795.8" y2="78.7" stroke="#000" stroke-width="4" stroke-linecap="butt"/>
<line x1="1045.2" y1="47.7" x2="1039" y2="47.7" stroke="#000" stroke-width="4" stroke-linecap="butt"/>
<line x1="1802" y1="47.7" x2="1795.8" y2="47.7" stroke="#000" stroke-width="4" stroke-linecap="butt"/>
<line x1="1045.2" y1="16.7" x2="1032.7" y2="16.7" stroke="#000" stroke-width="4" stroke-linecap="butt"/>
<line x1="1802" y1="16.7" x2="1789.5" y2="16.7" stroke="#000" stroke-width="4" stroke-linecap="butt"/>
<rect x="1045.2" y="16.7" width="756.8" height="619.6" fill="none" stroke="#000" stroke-width="4"/>
<text x="1024.1" y="646.3" font-size="35.8" fill="#000" text-anchor="end">0.75</text>
<text x="1024.1" y="491.4" font-size="35.8" fill="#000" text-anchor="end">0.80</text>
<text x="1024.1" y="336.5" font-size="35.8" fill="#000" text-anchor="end">0.85</text>
<text x="1024.1" y="181.6" font-size="35.8" fill="#000" text-anchor="end">0.90</text>
<text x="1024.1" y="26.7" font-size="35.8" fill="#000" text-anchor="end">0.95</text>
<text x="1232.2" y="684.6" font-size="35.8" fill="#000" text-anchor="middle">0.1</text>
<text x="1517" y="684.6" font-size="35.8" fill="#000" text-anchor="middle">1</text>
<text x="1801.8" y="684.6" font-size="35.8" fill="#000" text-anchor="middle">10</text>
<text x="1132" y="64.5" font-size="43" fill="#000" text-anchor="start">b)</text>
<text x="1067.5" y="597.3" font-size="33" fill="#000" text-anchor="start">H<tspan font-size="21.8" dy="8.2">2</tspan><tspan dy="-8.2">:Air, 80</tspan><tspan font-size="21.8" dy="-11.9">o</tspan><tspan dy="11.9">C, 1.7 bar (abs.)</tspan></text>
<text x="1270" y="723.6" font-size="39.0" fill="#000" text-anchor="start">i<tspan font-size="26.5" dy="9.8">kin</tspan><tspan dy="-9.8"> [mA cm</tspan><tspan font-size="26.5" dy="-14.0">-2</tspan><tspan font-size="26.5" dy="24.2">Pt</tspan><tspan dy="-10.1">]</tspan></text>
<text x="940" y="324" font-size="38.5" fill="#000" text-anchor="middle" transform="rotate(-90 940 324)">iR and H<tspan font-size="25" dy="-14">+</tspan><tspan dy="14"> free potential [ V ]</tspan></text>
<rect x="1441.2" y="43" width="351.2" height="248.8" fill="#000"/>
<rect x="1432.5" y="34.3" width="351.2" height="248.8" fill="#fff"/>
<line x1="1432.5" y1="34.3" x2="1783.7" y2="34.3" stroke="#c4c4c4" stroke-width="1.2" stroke-linecap="butt"/>
<line x1="1432.5" y1="34.3" x2="1432.5" y2="283.1" stroke="#7a7a7a" stroke-width="1.2" stroke-linecap="butt"/>
<text x="1436.5" y="62.2" font-size="28" fill="#000" text-anchor="start">Pt/C</text>
<line x1="1437.3" y1="88.6" x2="1449" y2="88.6" stroke="#cc0000" stroke-width="4" stroke-linecap="round"/>
<line x1="1485.6" y1="88.6" x2="1497.3" y2="88.6" stroke="#cc0000" stroke-width="4" stroke-linecap="round"/>
<circle cx="1467.3" cy="88.6" r="12.6" fill="#cc0000"/>
<text x="1506.5" y="96.9" font-size="28" fill="#000" text-anchor="start">100% RH</text>
<line x1="1437.3" y1="122.6" x2="1449" y2="122.6" stroke="#ff9999" stroke-width="4" stroke-linecap="round"/>
<line x1="1485.6" y1="122.6" x2="1497.3" y2="122.6" stroke="#ff9999" stroke-width="4" stroke-linecap="round"/>
<circle cx="1467.3" cy="122.6" r="12.6" fill="#ff9999"/>
<text x="1506.5" y="131.4" font-size="28" fill="#000" text-anchor="start">40% RH</text>
<text x="1436.5" y="166.2" font-size="28" fill="#000" text-anchor="start">Pt-Ni Aerogel</text>
<line x1="1437.3" y1="191.6" x2="1449" y2="191.6" stroke="#0510c8" stroke-width="4" stroke-linecap="round"/>
<line x1="1485.6" y1="191.6" x2="1497.3" y2="191.6" stroke="#0510c8" stroke-width="4" stroke-linecap="round"/>
<path d="M1452.8 200.1L1481.8 200.1L1467.3 174.6Z" fill="#0510c8"/>
<text x="1506.5" y="200.2" font-size="28" fill="#000" text-anchor="start">100% RH</text>
<line x1="1437.3" y1="226.4" x2="1449" y2="226.4" stroke="#8f9bff" stroke-width="4" stroke-linecap="round"/>
<line x1="1485.6" y1="226.4" x2="1497.3" y2="226.4" stroke="#8f9bff" stroke-width="4" stroke-linecap="round"/>
<path d="M1452.8 234.9L1481.8 234.9L1467.3 209.4Z" fill="#8f9bff"/>
<text x="1506.5" y="234.3" font-size="28" fill="#000" text-anchor="start">40% RH</text>
<line x1="1437" y1="264.4" x2="1497.5" y2="264.4" stroke="#ff0000" stroke-width="8" stroke-linecap="round"/>
<text x="1506.5" y="272.7" font-size="28.7" fill="#000" text-anchor="start">Tafel line 70 mV dec<tspan font-size="19.5" dy="-11.5">-1</tspan></text>
<clipPath id="cc"><rect x="115.1" y="782.6" width="756.6" height="620"/></clipPath>
<g clip-path="url(#cc)">
<line x1="196.5" y1="949.3" x2="208.6" y2="953.5" stroke="#2e0a6e" stroke-width="4.2" stroke-linecap="round"/>
<line x1="243.3" y1="962.9" x2="346.4" y2="982.8" stroke="#2e0a6e" stroke-width="4.2" stroke-linecap="round"/>
<line x1="381.5" y1="990.4" x2="461.9" y2="1010.1" stroke="#2e0a6e" stroke-width="4.2" stroke-linecap="round"/>
<line x1="497" y1="1018.4" x2="577.3" y2="1036.8" stroke="#2e0a6e" stroke-width="4.2" stroke-linecap="round"/>
<line x1="612.3" y1="1045.1" x2="692.7" y2="1065.2" stroke="#2e0a6e" stroke-width="4.2" stroke-linecap="round"/>
<line x1="727.5" y1="1074.5" x2="808.3" y2="1097.7" stroke="#2e0a6e" stroke-width="4.2" stroke-linecap="round"/>
<line x1="134.2" y1="880.3" x2="134.7" y2="892.2" stroke="#8f9bff" stroke-width="4.2" stroke-linecap="round"/>
<line x1="195.9" y1="969.2" x2="209.1" y2="975" stroke="#8f9bff" stroke-width="4.2" stroke-linecap="round"/>
<line x1="242.8" y1="987.4" x2="346.8" y2="1018.7" stroke="#8f9bff" stroke-width="4.2" stroke-linecap="round"/>
<line x1="381.1" y1="1029.7" x2="462.4" y2="1057.5" stroke="#8f9bff" stroke-width="4.2" stroke-linecap="round"/>
<line x1="496.6" y1="1068.8" x2="577.6" y2="1094.5" stroke="#8f9bff" stroke-width="4.2" stroke-linecap="round"/>
<line x1="610.8" y1="1108.2" x2="694.2" y2="1151.3" stroke="#8f9bff" stroke-width="4.2" stroke-linecap="round"/>
<line x1="727.1" y1="1165.6" x2="808.6" y2="1194.6" stroke="#8f9bff" stroke-width="4.2" stroke-linecap="round"/>
<line x1="196.5" y1="944.1" x2="208.5" y2="948.1" stroke="#2e0a6e" stroke-width="4.2" stroke-linecap="round"/>
<line x1="243.3" y1="957" x2="346.3" y2="975.7" stroke="#2e0a6e" stroke-width="4.2" stroke-linecap="round"/>
<line x1="381.6" y1="982.6" x2="461.8" y2="999.9" stroke="#2e0a6e" stroke-width="4.2" stroke-linecap="round"/>
<line x1="497" y1="1007.7" x2="577.3" y2="1026.1" stroke="#2e0a6e" stroke-width="4.2" stroke-linecap="round"/>
<line x1="612.2" y1="1034.8" x2="692.8" y2="1056.4" stroke="#2e0a6e" stroke-width="4.2" stroke-linecap="round"/>
<line x1="727.2" y1="1067" x2="808.6" y2="1095.6" stroke="#2e0a6e" stroke-width="4.2" stroke-linecap="round"/>
<line x1="134.1" y1="876.9" x2="134.8" y2="890.5" stroke="#8f9bff" stroke-width="4.2" stroke-linecap="round"/>
<line x1="196" y1="967.9" x2="209" y2="973.5" stroke="#8f9bff" stroke-width="4.2" stroke-linecap="round"/>
<line x1="243.3" y1="983.7" x2="346.3" y2="1002.2" stroke="#8f9bff" stroke-width="4.2" stroke-linecap="round"/>
<line x1="381.4" y1="1010" x2="462" y2="1031.6" stroke="#8f9bff" stroke-width="4.2" stroke-linecap="round"/>
<line x1="496.1" y1="1043.1" x2="578.1" y2="1076.8" stroke="#8f9bff" stroke-width="4.2" stroke-linecap="round"/>
<line x1="611" y1="1091.4" x2="694" y2="1131.5" stroke="#8f9bff" stroke-width="4.2" stroke-linecap="round"/>
<line x1="725.2" y1="1149.2" x2="810.5" y2="1204.9" stroke="#8f9bff" stroke-width="4.2" stroke-linecap="round"/>
<path d="M122.5 876.9L144.1 876.9L133.3 857.3Z" fill="#fff" stroke="#2e0a6e" stroke-width="4.8" stroke-linejoin="miter"/>
<rect x="130.9" y="867.7" width="4.8" height="3.2" fill="#2e0a6e"/>
<path d="M124.8 905L146.4 905L135.6 885.4Z" fill="#fff" stroke="#2e0a6e" stroke-width="4.8" stroke-linejoin="miter"/>
<rect x="133.2" y="895.8" width="4.8" height="3.2" fill="#2e0a6e"/>
<path d="M127.1 913.5L148.7 913.5L137.9 893.9Z" fill="#fff" stroke="#2e0a6e" stroke-width="4.8" stroke-linejoin="miter"/>
<rect x="135.5" y="904.3" width="4.8" height="3.2" fill="#2e0a6e"/>
<path d="M131.7 921.3L153.3 921.3L142.5 901.7Z" fill="#fff" stroke="#2e0a6e" stroke-width="4.8" stroke-linejoin="miter"/>
<rect x="140.1" y="912.1" width="4.8" height="3.2" fill="#2e0a6e"/>
<path d="M136.3 927L157.9 927L147.1 907.4Z" fill="#fff" stroke="#2e0a6e" stroke-width="4.8" stroke-linejoin="miter"/>
<rect x="144.7" y="917.8" width="4.8" height="3.2" fill="#2e0a6e"/>
<path d="M145.6 936L167.2 936L156.4 916.4Z" fill="#fff" stroke="#2e0a6e" stroke-width="4.8" stroke-linejoin="miter"/>
<rect x="154" y="926.8" width="4.8" height="3.2" fill="#2e0a6e"/>
<path d="M168.7 949.5L190.3 949.5L179.5 929.9Z" fill="#fff" stroke="#2e0a6e" stroke-width="4.8" stroke-linejoin="miter"/>
<rect x="177.1" y="940.3" width="4.8" height="3.2" fill="#2e0a6e"/>
<path d="M214.8 965.5L236.4 965.5L225.6 945.9Z" fill="#fff" stroke="#2e0a6e" stroke-width="4.8" stroke-linejoin="miter"/>
<rect x="223.2" y="956.3" width="4.8" height="3.2" fill="#2e0a6e"/>
<path d="M353.2 992.3L374.9 992.3L364.1 972.7Z" fill="#fff" stroke="#2e0a6e" stroke-width="4.8" stroke-linejoin="miter"/>
<rect x="361.7" y="983.1" width="4.8" height="3.2" fill="#2e0a6e"/>
<path d="M468.6 1020.4L490.2 1020.4L479.4 1000.8Z" fill="#fff" stroke="#2e0a6e" stroke-width="4.8" stroke-linejoin="miter"/>
<rect x="477" y="1011.2" width="4.8" height="3.2" fill="#2e0a6e"/>
<path d="M584 1046.9L605.6 1046.9L594.8 1027.3Z" fill="#fff" stroke="#2e0a6e" stroke-width="4.8" stroke-linejoin="miter"/>
<rect x="592.4" y="1037.7" width="4.8" height="3.2" fill="#2e0a6e"/>
<path d="M699.4 1075.6L721 1075.6L710.2 1056Z" fill="#fff" stroke="#2e0a6e" stroke-width="4.8" stroke-linejoin="miter"/>
<rect x="707.8" y="1066.4" width="4.8" height="3.2" fill="#2e0a6e"/>
<path d="M814.8 1108.8L836.3 1108.8L825.5 1089.2Z" fill="#fff" stroke="#2e0a6e" stroke-width="4.8" stroke-linejoin="miter"/>
<rect x="823.1" y="1099.6" width="4.8" height="3.2" fill="#2e0a6e"/>
<path d="M122.5 868.4L144.1 868.4L133.3 848.8Z" fill="#fff" stroke="#8f9bff" stroke-width="4.8" stroke-linejoin="miter"/>
<rect x="130.9" y="859.2" width="4.8" height="3.2" fill="#8f9bff"/>
<line x1="126.6" y1="857.8" x2="140.1" y2="857.8" stroke="#8f9bff" stroke-width="2.2" stroke-linecap="butt"/>
<line x1="126.6" y1="866.8" x2="140.1" y2="866.8" stroke="#8f9bff" stroke-width="2.2" stroke-linecap="butt"/>
<path d="M124.8 916.3L146.4 916.3L135.6 896.7Z" fill="#fff" stroke="#8f9bff" stroke-width="4.8" stroke-linejoin="miter"/>
<rect x="133.2" y="907.1" width="4.8" height="3.2" fill="#8f9bff"/>
<line x1="128.9" y1="905.7" x2="142.4" y2="905.7" stroke="#8f9bff" stroke-width="2.2" stroke-linecap="butt"/>
<line x1="128.9" y1="914.7" x2="142.4" y2="914.7" stroke="#8f9bff" stroke-width="2.2" stroke-linecap="butt"/>
<path d="M127.1 925.8L148.7 925.8L137.9 906.2Z" fill="#fff" stroke="#8f9bff" stroke-width="4.8" stroke-linejoin="miter"/>
<rect x="135.5" y="916.6" width="4.8" height="3.2" fill="#8f9bff"/>
<line x1="131.2" y1="915.2" x2="144.7" y2="915.2" stroke="#8f9bff" stroke-width="2.2" stroke-linecap="butt"/>
<line x1="131.2" y1="924.2" x2="144.7" y2="924.2" stroke="#8f9bff" stroke-width="2.2" stroke-linecap="butt"/>
<path d="M131.7 934.9L153.3 934.9L142.5 915.3Z" fill="#fff" stroke="#8f9bff" stroke-width="4.8" stroke-linejoin="miter"/>
<rect x="140.1" y="925.7" width="4.8" height="3.2" fill="#8f9bff"/>
<line x1="135.8" y1="924.2" x2="149.3" y2="924.2" stroke="#8f9bff" stroke-width="2.2" stroke-linecap="butt"/>
<line x1="135.8" y1="933.3" x2="149.3" y2="933.3" stroke="#8f9bff" stroke-width="2.2" stroke-linecap="butt"/>
<path d="M136.3 941.6L157.9 941.6L147.1 922Z" fill="#fff" stroke="#8f9bff" stroke-width="4.8" stroke-linejoin="miter"/>
<rect x="144.7" y="932.4" width="4.8" height="3.2" fill="#8f9bff"/>
<line x1="140.4" y1="931" x2="153.9" y2="931" stroke="#8f9bff" stroke-width="2.2" stroke-linecap="butt"/>
<line x1="140.4" y1="940" x2="153.9" y2="940" stroke="#8f9bff" stroke-width="2.2" stroke-linecap="butt"/>
<path d="M145.6 951.7L167.2 951.7L156.4 932.1Z" fill="#fff" stroke="#8f9bff" stroke-width="4.8" stroke-linejoin="miter"/>
<rect x="154" y="942.5" width="4.8" height="3.2" fill="#8f9bff"/>
<line x1="149.6" y1="941.1" x2="163.1" y2="941.1" stroke="#8f9bff" stroke-width="2.2" stroke-linecap="butt"/>
<line x1="149.6" y1="950.1" x2="163.1" y2="950.1" stroke="#8f9bff" stroke-width="2.2" stroke-linecap="butt"/>
<path d="M168.7 968.1L190.3 968.1L179.5 948.5Z" fill="#fff" stroke="#8f9bff" stroke-width="4.8" stroke-linejoin="miter"/>
<rect x="177.1" y="958.9" width="4.8" height="3.2" fill="#8f9bff"/>
<line x1="172.7" y1="957.5" x2="186.2" y2="957.5" stroke="#8f9bff" stroke-width="2.2" stroke-linecap="butt"/>
<line x1="172.7" y1="966.5" x2="186.2" y2="966.5" stroke="#8f9bff" stroke-width="2.2" stroke-linecap="butt"/>
<path d="M214.8 988.3L236.4 988.3L225.6 968.7Z" fill="#fff" stroke="#8f9bff" stroke-width="4.8" stroke-linejoin="miter"/>
<rect x="223.2" y="979.1" width="4.8" height="3.2" fill="#8f9bff"/>
<line x1="218.9" y1="977.7" x2="232.4" y2="977.7" stroke="#8f9bff" stroke-width="2.2" stroke-linecap="butt"/>
<line x1="218.9" y1="986.7" x2="232.4" y2="986.7" stroke="#8f9bff" stroke-width="2.2" stroke-linecap="butt"/>
<path d="M353.2 1030L374.9 1030L364.1 1010.4Z" fill="#fff" stroke="#8f9bff" stroke-width="4.8" stroke-linejoin="miter"/>
<rect x="361.7" y="1020.8" width="4.8" height="3.2" fill="#8f9bff"/>
<line x1="357.3" y1="1018.3" x2="370.8" y2="1018.3" stroke="#8f9bff" stroke-width="2.2" stroke-linecap="butt"/>
<line x1="357.3" y1="1029.5" x2="370.8" y2="1029.5" stroke="#8f9bff" stroke-width="2.2" stroke-linecap="butt"/>
<path d="M468.6 1069.4L490.2 1069.4L479.4 1049.8Z" fill="#fff" stroke="#8f9bff" stroke-width="4.8" stroke-linejoin="miter"/>
<rect x="477" y="1060.2" width="4.8" height="3.2" fill="#8f9bff"/>
<line x1="479.4" y1="1041.4" x2="479.4" y2="1046.3" stroke="#8f9bff" stroke-width="2.2" stroke-linecap="butt"/>
<line x1="479.4" y1="1072.3" x2="479.4" y2="1085.3" stroke="#8f9bff" stroke-width="2.2" stroke-linecap="butt"/>
<line x1="472.7" y1="1041.4" x2="486.2" y2="1041.4" stroke="#8f9bff" stroke-width="2.2" stroke-linecap="butt"/>
<line x1="472.7" y1="1085.3" x2="486.2" y2="1085.3" stroke="#8f9bff" stroke-width="2.2" stroke-linecap="butt"/>
<path d="M584 1106L605.6 1106L594.8 1086.4Z" fill="#fff" stroke="#8f9bff" stroke-width="4.8" stroke-linejoin="miter"/>
<rect x="592.4" y="1096.8" width="4.8" height="3.2" fill="#8f9bff"/>
<line x1="594.8" y1="1108.9" x2="594.8" y2="1110" stroke="#8f9bff" stroke-width="2.2" stroke-linecap="butt"/>
<line x1="588" y1="1089.8" x2="601.5" y2="1089.8" stroke="#8f9bff" stroke-width="2.2" stroke-linecap="butt"/>
<line x1="588" y1="1110" x2="601.5" y2="1110" stroke="#8f9bff" stroke-width="2.2" stroke-linecap="butt"/>
<path d="M699.4 1165.7L721 1165.7L710.2 1146.1Z" fill="#fff" stroke="#8f9bff" stroke-width="4.8" stroke-linejoin="miter"/>
<rect x="707.8" y="1156.5" width="4.8" height="3.2" fill="#8f9bff"/>
<line x1="710.2" y1="1168.6" x2="710.2" y2="1174.2" stroke="#8f9bff" stroke-width="2.2" stroke-linecap="butt"/>
<line x1="703.4" y1="1144.9" x2="716.9" y2="1144.9" stroke="#8f9bff" stroke-width="2.2" stroke-linecap="butt"/>
<line x1="703.4" y1="1174.2" x2="716.9" y2="1174.2" stroke="#8f9bff" stroke-width="2.2" stroke-linecap="butt"/>
<path d="M814.8 1206.8L836.3 1206.8L825.5 1187.2Z" fill="#fff" stroke="#8f9bff" stroke-width="4.8" stroke-linejoin="miter"/>
<rect x="823.1" y="1197.6" width="4.8" height="3.2" fill="#8f9bff"/>
<line x1="825.5" y1="1181" x2="825.5" y2="1183.7" stroke="#8f9bff" stroke-width="2.2" stroke-linecap="butt"/>
<line x1="825.5" y1="1209.7" x2="825.5" y2="1220.4" stroke="#8f9bff" stroke-width="2.2" stroke-linecap="butt"/>
<line x1="818.8" y1="1181" x2="832.3" y2="1181" stroke="#8f9bff" stroke-width="2.2" stroke-linecap="butt"/>
<line x1="818.8" y1="1220.4" x2="832.3" y2="1220.4" stroke="#8f9bff" stroke-width="2.2" stroke-linecap="butt"/>
<path d="M118.8 874.8L147.8 874.8L133.3 849.3Z" fill="#2e0a6e"/>
<path d="M121.1 901.8L150.1 901.8L135.6 876.3Z" fill="#2e0a6e"/>
<path d="M123.4 910.2L152.4 910.2L137.9 884.7Z" fill="#2e0a6e"/>
<path d="M128 918.1L157 918.1L142.5 892.6Z" fill="#2e0a6e"/>
<path d="M132.6 923.7L161.6 923.7L147.1 898.2Z" fill="#2e0a6e"/>
<path d="M141.9 932.8L170.9 932.8L156.4 907.2Z" fill="#2e0a6e"/>
<path d="M165 946.8L194 946.8L179.5 921.3Z" fill="#2e0a6e"/>
<path d="M211.1 962.3L240.1 962.3L225.6 936.8Z" fill="#2e0a6e"/>
<path d="M349.6 987.4L378.6 987.4L364.1 961.9Z" fill="#2e0a6e"/>
<path d="M464.9 1012.1L493.9 1012.1L479.4 986.6Z" fill="#2e0a6e"/>
<path d="M580.3 1038.6L609.3 1038.6L594.8 1013.1Z" fill="#2e0a6e"/>
<path d="M695.7 1069.6L724.7 1069.6L710.2 1044.1Z" fill="#2e0a6e"/>
<path d="M811 1110.1L840 1110.1L825.5 1084.6Z" fill="#2e0a6e"/>
<path d="M118.8 867.4L147.8 867.4L133.3 841.9Z" fill="#8f9bff"/>
<line x1="126.6" y1="854.4" x2="140.1" y2="854.4" stroke="#8f9bff" stroke-width="2.2" stroke-linecap="butt"/>
<line x1="126.6" y1="863.4" x2="140.1" y2="863.4" stroke="#8f9bff" stroke-width="2.2" stroke-linecap="butt"/>
<path d="M121.1 917L150.1 917L135.6 891.5Z" fill="#8f9bff"/>
<line x1="128.9" y1="904" x2="142.4" y2="904" stroke="#8f9bff" stroke-width="2.2" stroke-linecap="butt"/>
<line x1="128.9" y1="913" x2="142.4" y2="913" stroke="#8f9bff" stroke-width="2.2" stroke-linecap="butt"/>
<path d="M123.4 926.6L152.4 926.6L137.9 901.1Z" fill="#8f9bff"/>
<line x1="131.2" y1="913.6" x2="144.7" y2="913.6" stroke="#8f9bff" stroke-width="2.2" stroke-linecap="butt"/>
<line x1="131.2" y1="922.6" x2="144.7" y2="922.6" stroke="#8f9bff" stroke-width="2.2" stroke-linecap="butt"/>
<path d="M128 936.1L157 936.1L142.5 910.6Z" fill="#8f9bff"/>
<line x1="135.8" y1="923.1" x2="149.3" y2="923.1" stroke="#8f9bff" stroke-width="2.2" stroke-linecap="butt"/>
<line x1="135.8" y1="932.1" x2="149.3" y2="932.1" stroke="#8f9bff" stroke-width="2.2" stroke-linecap="butt"/>
<path d="M132.6 941.8L161.6 941.8L147.1 916.3Z" fill="#8f9bff"/>
<line x1="140.4" y1="928.8" x2="153.9" y2="928.8" stroke="#8f9bff" stroke-width="2.2" stroke-linecap="butt"/>
<line x1="140.4" y1="937.8" x2="153.9" y2="937.8" stroke="#8f9bff" stroke-width="2.2" stroke-linecap="butt"/>
<path d="M141.9 953L170.9 953L156.4 927.5Z" fill="#8f9bff"/>
<line x1="149.6" y1="940" x2="163.1" y2="940" stroke="#8f9bff" stroke-width="2.2" stroke-linecap="butt"/>
<line x1="149.6" y1="949" x2="163.1" y2="949" stroke="#8f9bff" stroke-width="2.2" stroke-linecap="butt"/>
<path d="M165 969.3L194 969.3L179.5 943.8Z" fill="#8f9bff"/>
<line x1="172.7" y1="956.3" x2="186.2" y2="956.3" stroke="#8f9bff" stroke-width="2.2" stroke-linecap="butt"/>
<line x1="172.7" y1="965.3" x2="186.2" y2="965.3" stroke="#8f9bff" stroke-width="2.2" stroke-linecap="butt"/>
<path d="M211.1 989L240.1 989L225.6 963.5Z" fill="#8f9bff"/>
<line x1="218.9" y1="976" x2="232.4" y2="976" stroke="#8f9bff" stroke-width="2.2" stroke-linecap="butt"/>
<line x1="218.9" y1="985.1" x2="232.4" y2="985.1" stroke="#8f9bff" stroke-width="2.2" stroke-linecap="butt"/>
<path d="M349.6 1013.8L378.6 1013.8L364.1 988.3Z" fill="#8f9bff"/>
<line x1="357.3" y1="1000.8" x2="370.8" y2="1000.8" stroke="#8f9bff" stroke-width="2.2" stroke-linecap="butt"/>
<line x1="357.3" y1="1009.8" x2="370.8" y2="1009.8" stroke="#8f9bff" stroke-width="2.2" stroke-linecap="butt"/>
<path d="M464.9 1044.8L493.9 1044.8L479.4 1019.3Z" fill="#8f9bff"/>
<line x1="472.7" y1="1030.7" x2="486.2" y2="1030.7" stroke="#8f9bff" stroke-width="2.2" stroke-linecap="butt"/>
<line x1="472.7" y1="1041.9" x2="486.2" y2="1041.9" stroke="#8f9bff" stroke-width="2.2" stroke-linecap="butt"/>
<path d="M580.3 1092.1L609.3 1092.1L594.8 1066.6Z" fill="#8f9bff"/>
<line x1="594.8" y1="1091.6" x2="594.8" y2="1097.1" stroke="#8f9bff" stroke-width="2.2" stroke-linecap="butt"/>
<line x1="588" y1="1070.1" x2="601.5" y2="1070.1" stroke="#8f9bff" stroke-width="2.2" stroke-linecap="butt"/>
<line x1="588" y1="1097.1" x2="601.5" y2="1097.1" stroke="#8f9bff" stroke-width="2.2" stroke-linecap="butt"/>
<path d="M695.7 1147.8L724.7 1147.8L710.2 1122.3Z" fill="#8f9bff"/>
<line x1="710.2" y1="1147.3" x2="710.2" y2="1154" stroke="#8f9bff" stroke-width="2.2" stroke-linecap="butt"/>
<line x1="703.4" y1="1124.7" x2="716.9" y2="1124.7" stroke="#8f9bff" stroke-width="2.2" stroke-linecap="butt"/>
<line x1="703.4" y1="1154" x2="716.9" y2="1154" stroke="#8f9bff" stroke-width="2.2" stroke-linecap="butt"/>
<path d="M811 1223.3L840 1223.3L825.5 1197.8Z" fill="#8f9bff"/>
<line x1="825.5" y1="1195.6" x2="825.5" y2="1199.8" stroke="#8f9bff" stroke-width="2.2" stroke-linecap="butt"/>
<line x1="825.5" y1="1222.8" x2="825.5" y2="1233.9" stroke="#8f9bff" stroke-width="2.2" stroke-linecap="butt"/>
<line x1="818.8" y1="1195.6" x2="832.3" y2="1195.6" stroke="#8f9bff" stroke-width="2.2" stroke-linecap="butt"/>
<line x1="818.8" y1="1233.9" x2="832.3" y2="1233.9" stroke="#8f9bff" stroke-width="2.2" stroke-linecap="butt"/>
</g>
<line x1="133.3" y1="1402.6" x2="133.3" y2="1390.1" stroke="#000" stroke-width="4" stroke-linecap="butt"/>
<line x1="133.3" y1="782.6" x2="133.3" y2="795.1" stroke="#000" stroke-width="4" stroke-linecap="butt"/>
<line x1="179.5" y1="1402.6" x2="179.5" y2="1396.4" stroke="#000" stroke-width="4" stroke-linecap="butt"/>
<line x1="179.5" y1="782.6" x2="179.5" y2="788.8" stroke="#000" stroke-width="4" stroke-linecap="butt"/>
<line x1="225.6" y1="1402.6" x2="225.6" y2="1390.1" stroke="#000" stroke-width="4" stroke-linecap="butt"/>
<line x1="225.6" y1="782.6" x2="225.6" y2="795.1" stroke="#000" stroke-width="4" stroke-linecap="butt"/>
<line x1="271.8" y1="1402.6" x2="271.8" y2="1396.4" stroke="#000" stroke-width="4" stroke-linecap="butt"/>
<line x1="271.8" y1="782.6" x2="271.8" y2="788.8" stroke="#000" stroke-width="4" stroke-linecap="butt"/>
<line x1="317.9" y1="1402.6" x2="317.9" y2="1390.1" stroke="#000" stroke-width="4" stroke-linecap="butt"/>
<line x1="317.9" y1="782.6" x2="317.9" y2="795.1" stroke="#000" stroke-width="4" stroke-linecap="butt"/>
<line x1="364.1" y1="1402.6" x2="364.1" y2="1396.4" stroke="#000" stroke-width="4" stroke-linecap="butt"/>
<line x1="364.1" y1="782.6" x2="364.1" y2="788.8" stroke="#000" stroke-width="4" stroke-linecap="butt"/>
<line x1="410.2" y1="1402.6" x2="410.2" y2="1390.1" stroke="#000" stroke-width="4" stroke-linecap="butt"/>
<line x1="410.2" y1="782.6" x2="410.2" y2="795.1" stroke="#000" stroke-width="4" stroke-linecap="butt"/>
<line x1="456.3" y1="1402.6" x2="456.3" y2="1396.4" stroke="#000" stroke-width="4" stroke-linecap="butt"/>
<line x1="456.3" y1="782.6" x2="456.3" y2="788.8" stroke="#000" stroke-width="4" stroke-linecap="butt"/>
<line x1="502.5" y1="1402.6" x2="502.5" y2="1390.1" stroke="#000" stroke-width="4" stroke-linecap="butt"/>
<line x1="502.5" y1="782.6" x2="502.5" y2="795.1" stroke="#000" stroke-width="4" stroke-linecap="butt"/>
<line x1="548.7" y1="1402.6" x2="548.7" y2="1396.4" stroke="#000" stroke-width="4" stroke-linecap="butt"/>
<line x1="548.7" y1="782.6" x2="548.7" y2="788.8" stroke="#000" stroke-width="4" stroke-linecap="butt"/>
<line x1="594.8" y1="1402.6" x2="594.8" y2="1390.1" stroke="#000" stroke-width="4" stroke-linecap="butt"/>
<line x1="594.8" y1="782.6" x2="594.8" y2="795.1" stroke="#000" stroke-width="4" stroke-linecap="butt"/>
<line x1="641" y1="1402.6" x2="641" y2="1396.4" stroke="#000" stroke-width="4" stroke-linecap="butt"/>
<line x1="641" y1="782.6" x2="641" y2="788.8" stroke="#000" stroke-width="4" stroke-linecap="butt"/>
<line x1="687.1" y1="1402.6" x2="687.1" y2="1390.1" stroke="#000" stroke-width="4" stroke-linecap="butt"/>
<line x1="687.1" y1="782.6" x2="687.1" y2="795.1" stroke="#000" stroke-width="4" stroke-linecap="butt"/>
<line x1="733.2" y1="1402.6" x2="733.2" y2="1396.4" stroke="#000" stroke-width="4" stroke-linecap="butt"/>
<line x1="733.2" y1="782.6" x2="733.2" y2="788.8" stroke="#000" stroke-width="4" stroke-linecap="butt"/>
<line x1="779.4" y1="1402.6" x2="779.4" y2="1390.1" stroke="#000" stroke-width="4" stroke-linecap="butt"/>
<line x1="779.4" y1="782.6" x2="779.4" y2="795.1" stroke="#000" stroke-width="4" stroke-linecap="butt"/>
<line x1="825.5" y1="1402.6" x2="825.5" y2="1396.4" stroke="#000" stroke-width="4" stroke-linecap="butt"/>
<line x1="825.5" y1="782.6" x2="825.5" y2="788.8" stroke="#000" stroke-width="4" stroke-linecap="butt"/>
<line x1="871.7" y1="1402.6" x2="871.7" y2="1390.1" stroke="#000" stroke-width="4" stroke-linecap="butt"/>
<line x1="871.7" y1="782.6" x2="871.7" y2="795.1" stroke="#000" stroke-width="4" stroke-linecap="butt"/>
<line x1="115.1" y1="1402.8" x2="127.6" y2="1402.8" stroke="#000" stroke-width="4" stroke-linecap="butt"/>
<line x1="871.7" y1="1402.8" x2="859.2" y2="1402.8" stroke="#000" stroke-width="4" stroke-linecap="butt"/>
<line x1="115.1" y1="1374.6" x2="121.3" y2="1374.6" stroke="#000" stroke-width="4" stroke-linecap="butt"/>
<line x1="871.7" y1="1374.6" x2="865.5" y2="1374.6" stroke="#000" stroke-width="4" stroke-linecap="butt"/>
<line x1="115.1" y1="1346.5" x2="127.6" y2="1346.5" stroke="#000" stroke-width="4" stroke-linecap="butt"/>
<line x1="871.7" y1="1346.5" x2="859.2" y2="1346.5" stroke="#000" stroke-width="4" stroke-linecap="butt"/>
<line x1="115.1" y1="1318.3" x2="121.3" y2="1318.3" stroke="#000" stroke-width="4" stroke-linecap="butt"/>
<line x1="871.7" y1="1318.3" x2="865.5" y2="1318.3" stroke="#000" stroke-width="4" stroke-linecap="butt"/>
<line x1="115.1" y1="1290.2" x2="127.6" y2="1290.2" stroke="#000" stroke-width="4" stroke-linecap="butt"/>
<line x1="871.7" y1="1290.2" x2="859.2" y2="1290.2" stroke="#000" stroke-width="4" stroke-linecap="butt"/>
<line x1="115.1" y1="1262" x2="121.3" y2="1262" stroke="#000" stroke-width="4" stroke-linecap="butt"/>
<line x1="871.7" y1="1262" x2="865.5" y2="1262" stroke="#000" stroke-width="4" stroke-linecap="butt"/>
<line x1="115.1" y1="1233.9" x2="127.6" y2="1233.9" stroke="#000" stroke-width="4" stroke-linecap="butt"/>
<line x1="871.7" y1="1233.9" x2="859.2" y2="1233.9" stroke="#000" stroke-width="4" stroke-linecap="butt"/>
<line x1="115.1" y1="1205.8" x2="121.3" y2="1205.8" stroke="#000" stroke-width="4" stroke-linecap="butt"/>
<line x1="871.7" y1="1205.8" x2="865.5" y2="1205.8" stroke="#000" stroke-width="4" stroke-linecap="butt"/>
<line x1="115.1" y1="1177.6" x2="127.6" y2="1177.6" stroke="#000" stroke-width="4" stroke-linecap="butt"/>
<line x1="871.7" y1="1177.6" x2="859.2" y2="1177.6" stroke="#000" stroke-width="4" stroke-linecap="butt"/>
<line x1="115.1" y1="1149.5" x2="121.3" y2="1149.5" stroke="#000" stroke-width="4" stroke-linecap="butt"/>
<line x1="871.7" y1="1149.5" x2="865.5" y2="1149.5" stroke="#000" stroke-width="4" stroke-linecap="butt"/>
<line x1="115.1" y1="1121.3" x2="127.6" y2="1121.3" stroke="#000" stroke-width="4" stroke-linecap="butt"/>
<line x1="871.7" y1="1121.3" x2="859.2" y2="1121.3" stroke="#000" stroke-width="4" stroke-linecap="butt"/>
<line x1="115.1" y1="1093.1" x2="121.3" y2="1093.1" stroke="#000" stroke-width="4" stroke-linecap="butt"/>
<line x1="871.7" y1="1093.1" x2="865.5" y2="1093.1" stroke="#000" stroke-width="4" stroke-linecap="butt"/>
<line x1="115.1" y1="1065" x2="127.6" y2="1065" stroke="#000" stroke-width="4" stroke-linecap="butt"/>
<line x1="871.7" y1="1065" x2="859.2" y2="1065" stroke="#000" stroke-width="4" stroke-linecap="butt"/>
<line x1="115.1" y1="1036.8" x2="121.3" y2="1036.8" stroke="#000" stroke-width="4" stroke-linecap="butt"/>
<line x1="871.7" y1="1036.8" x2="865.5" y2="1036.8" stroke="#000" stroke-width="4" stroke-linecap="butt"/>
<line x1="115.1" y1="1008.7" x2="127.6" y2="1008.7" stroke="#000" stroke-width="4" stroke-linecap="butt"/>
<line x1="871.7" y1="1008.7" x2="859.2" y2="1008.7" stroke="#000" stroke-width="4" stroke-linecap="butt"/>
<line x1="115.1" y1="980.5" x2="121.3" y2="980.5" stroke="#000" stroke-width="4" stroke-linecap="butt"/>
<line x1="871.7" y1="980.5" x2="865.5" y2="980.5" stroke="#000" stroke-width="4" stroke-linecap="butt"/>
<line x1="115.1" y1="952.4" x2="127.6" y2="952.4" stroke="#000" stroke-width="4" stroke-linecap="butt"/>
<line x1="871.7" y1="952.4" x2="859.2" y2="952.4" stroke="#000" stroke-width="4" stroke-linecap="butt"/>
<line x1="115.1" y1="924.2" x2="121.3" y2="924.2" stroke="#000" stroke-width="4" stroke-linecap="butt"/>
<line x1="871.7" y1="924.2" x2="865.5" y2="924.2" stroke="#000" stroke-width="4" stroke-linecap="butt"/>
<line x1="115.1" y1="896.1" x2="127.6" y2="896.1" stroke="#000" stroke-width="4" stroke-linecap="butt"/>
<line x1="871.7" y1="896.1" x2="859.2" y2="896.1" stroke="#000" stroke-width="4" stroke-linecap="butt"/>
<line x1="115.1" y1="867.9" x2="121.3" y2="867.9" stroke="#000" stroke-width="4" stroke-linecap="butt"/>
<line x1="871.7" y1="867.9" x2="865.5" y2="867.9" stroke="#000" stroke-width="4" stroke-linecap="butt"/>
<line x1="115.1" y1="839.8" x2="127.6" y2="839.8" stroke="#000" stroke-width="4" stroke-linecap="butt"/>
<line x1="871.7" y1="839.8" x2="859.2" y2="839.8" stroke="#000" stroke-width="4" stroke-linecap="butt"/>
<line x1="115.1" y1="811.6" x2="121.3" y2="811.6" stroke="#000" stroke-width="4" stroke-linecap="butt"/>
<line x1="871.7" y1="811.6" x2="865.5" y2="811.6" stroke="#000" stroke-width="4" stroke-linecap="butt"/>
<rect x="115.1" y="782.6" width="756.6" height="620" fill="none" stroke="#000" stroke-width="4"/>
<text x="133.3" y="1443" font-size="35.8" fill="#000" text-anchor="middle">0.0</text>
<text x="225.6" y="1443" font-size="35.8" fill="#000" text-anchor="middle">0.2</text>
<text x="317.9" y="1443" font-size="35.8" fill="#000" text-anchor="middle">0.4</text>
<text x="410.2" y="1443" font-size="35.8" fill="#000" text-anchor="middle">0.6</text>
<text x="502.5" y="1443" font-size="35.8" fill="#000" text-anchor="middle">0.8</text>
<text x="594.8" y="1443" font-size="35.8" fill="#000" text-anchor="middle">1.0</text>
<text x="687.1" y="1443" font-size="35.8" fill="#000" text-anchor="middle">1.2</text>
<text x="779.4" y="1443" font-size="35.8" fill="#000" text-anchor="middle">1.4</text>
<text x="871.7" y="1443" font-size="35.8" fill="#000" text-anchor="middle">1.6</text>
<text x="100.5" y="1412.2" font-size="35.8" fill="#000" text-anchor="end">0.0</text>
<text x="100.5" y="1355.9" font-size="35.8" fill="#000" text-anchor="end">0.1</text>
<text x="100.5" y="1299.6" font-size="35.8" fill="#000" text-anchor="end">0.2</text>
<text x="100.5" y="1243.3" font-size="35.8" fill="#000" text-anchor="end">0.3</text>
<text x="100.5" y="1187" font-size="35.8" fill="#000" text-anchor="end">0.4</text>
<text x="100.5" y="1130.7" font-size="35.8" fill="#000" text-anchor="end">0.5</text>
<text x="100.5" y="1074.4" font-size="35.8" fill="#000" text-anchor="end">0.6</text>
<text x="100.5" y="1018.1" font-size="35.8" fill="#000" text-anchor="end">0.7</text>
<text x="100.5" y="961.8" font-size="35.8" fill="#000" text-anchor="end">0.8</text>
<text x="100.5" y="905.5" font-size="35.8" fill="#000" text-anchor="end">0.9</text>
<text x="100.5" y="849.2" font-size="35.8" fill="#000" text-anchor="end">1.0</text>
<text x="100.5" y="792.9" font-size="35.8" fill="#000" text-anchor="end">1.1</text>
<text x="144.5" y="839.5" font-size="43" fill="#000" text-anchor="start">c)</text>
<text x="328" y="835" font-size="23.9" fill="#7f7f7f" text-anchor="start">Anode: GDE JM 25 BC; membrane: Nafion HP;</text>
<text x="328" y="875.6" font-size="23.9" fill="#7f7f7f" text-anchor="start">Cathode: Pt-Ni aerogel , 0.3 mg<tspan font-size="15.5" dy="6">Pt</tspan><tspan dy="-6">cm</tspan><tspan font-size="15.5" dy="-10">-2</tspan></text>
<text x="433" y="1367" font-size="33" fill="#000" text-anchor="start">H<tspan font-size="21.8" dy="8.2">2</tspan><tspan dy="-8.2">: Air, 80</tspan><tspan font-size="21.8" dy="-11.9">o</tspan><tspan dy="11.9">C, 1.7 bar (abs.)</tspan></text>
<text x="237" y="1491.8" font-size="39.0" fill="#000" text-anchor="start">Current density [A cm<tspan font-size="26.5" dy="-14.0">-2</tspan><tspan font-size="26.5" dy="24.2">MEA</tspan><tspan dy="-10.1">]</tspan></text>
<text x="37.2" y="1113" font-size="38.5" fill="#000" text-anchor="middle" transform="rotate(-90 37.2 1113)">Cell Potential [ V ]</text>
<rect x="143.1" y="1164.7" width="514.6" height="85.3" fill="#000"/>
<rect x="134.6" y="1156.2" width="514.6" height="85.3" fill="#fff"/>
<line x1="134.6" y1="1156.2" x2="649.2" y2="1156.2" stroke="#ececec" stroke-width="1.2" stroke-linecap="butt"/>
<line x1="134.6" y1="1156.2" x2="134.6" y2="1241.5" stroke="#4a4a4a" stroke-width="1.2" stroke-linecap="butt"/>
<line x1="137.2" y1="1178.8" x2="157.7" y2="1178.8" stroke="#2e0a6e" stroke-width="3.6" stroke-linecap="round"/>
<line x1="192.7" y1="1178.8" x2="213.2" y2="1178.8" stroke="#2e0a6e" stroke-width="3.6" stroke-linecap="round"/>
<path d="M160.7 1187.3L189.7 1187.3L175.2 1161.8Z" fill="#2e0a6e"/>
<text x="222" y="1190" font-size="32.3" fill="#000" text-anchor="start">100% RH</text>
<line x1="137.2" y1="1219.2" x2="157.7" y2="1219.2" stroke="#8f9bff" stroke-width="3.6" stroke-linecap="round"/>
<line x1="192.7" y1="1219.2" x2="213.2" y2="1219.2" stroke="#8f9bff" stroke-width="3.6" stroke-linecap="round"/>
<path d="M164.4 1226.8L186 1226.8L175.2 1207.2Z" fill="#fff" stroke="#8f9bff" stroke-width="4.8" stroke-linejoin="miter"/>
<rect x="172.8" y="1217.6" width="4.8" height="3.2" fill="#8f9bff"/>
<text x="219" y="1230" font-size="32.3" fill="#000" text-anchor="start">40% RH</text>
<line x1="375" y1="1179.2" x2="389" y2="1179.2" stroke="#9a9a9a" stroke-width="1.2" stroke-linecap="butt"/>
<path d="M390.5 1175.2L404 1179.2L390.5 1183.2Z" fill="#000"/>
<line x1="375" y1="1219.5" x2="389" y2="1219.5" stroke="#9a9a9a" stroke-width="1.2" stroke-linecap="butt"/>
<path d="M390.5 1215.5L404 1219.5L390.5 1223.5Z" fill="#000"/>
<line x1="422" y1="1178.8" x2="442.5" y2="1178.8" stroke="#8f9bff" stroke-width="3.6" stroke-linecap="round"/>
<line x1="477.5" y1="1178.8" x2="498" y2="1178.8" stroke="#8f9bff" stroke-width="3.6" stroke-linecap="round"/>
<path d="M445.5 1187.3L474.5 1187.3L460 1161.8Z" fill="#8f9bff"/>
<text x="504.5" y="1190" font-size="32.3" fill="#000" text-anchor="start">40% RH</text>
<line x1="422" y1="1219.2" x2="442.5" y2="1219.2" stroke="#2e0a6e" stroke-width="3.6" stroke-linecap="round"/>
<line x1="477.5" y1="1219.2" x2="498" y2="1219.2" stroke="#2e0a6e" stroke-width="3.6" stroke-linecap="round"/>
<path d="M449.2 1226.8L470.8 1226.8L460 1207.2Z" fill="#fff" stroke="#2e0a6e" stroke-width="4.8" stroke-linejoin="miter"/>
<rect x="457.6" y="1217.6" width="4.8" height="3.2" fill="#2e0a6e"/>
<text x="507" y="1230" font-size="32.3" fill="#000" text-anchor="start">100% RH</text>
<line x1="1051.9" y1="783.7" x2="1051.9" y2="1402.7" stroke="#e4e4e4" stroke-width="1" stroke-linecap="butt" stroke-dasharray="3.5 3.5"/>
<line x1="1077.7" y1="783.7" x2="1077.7" y2="1402.7" stroke="#e4e4e4" stroke-width="1" stroke-linecap="butt" stroke-dasharray="3.5 3.5"/>
<line x1="1099.5" y1="783.7" x2="1099.5" y2="1402.7" stroke="#e4e4e4" stroke-width="1" stroke-linecap="butt" stroke-dasharray="3.5 3.5"/>
<line x1="1118.4" y1="783.7" x2="1118.4" y2="1402.7" stroke="#e4e4e4" stroke-width="1" stroke-linecap="butt" stroke-dasharray="3.5 3.5"/>
<line x1="1135.1" y1="783.7" x2="1135.1" y2="1402.7" stroke="#e4e4e4" stroke-width="1" stroke-linecap="butt" stroke-dasharray="3.5 3.5"/>
<line x1="1248.1" y1="783.7" x2="1248.1" y2="1402.7" stroke="#e4e4e4" stroke-width="1" stroke-linecap="butt" stroke-dasharray="3.5 3.5"/>
<line x1="1305.5" y1="783.7" x2="1305.5" y2="1402.7" stroke="#e4e4e4" stroke-width="1" stroke-linecap="butt" stroke-dasharray="3.5 3.5"/>
<line x1="1346.3" y1="783.7" x2="1346.3" y2="1402.7" stroke="#e4e4e4" stroke-width="1" stroke-linecap="butt" stroke-dasharray="3.5 3.5"/>
<line x1="1377.9" y1="783.7" x2="1377.9" y2="1402.7" stroke="#e4e4e4" stroke-width="1" stroke-linecap="butt" stroke-dasharray="3.5 3.5"/>
<line x1="1403.7" y1="783.7" x2="1403.7" y2="1402.7" stroke="#e4e4e4" stroke-width="1" stroke-linecap="butt" stroke-dasharray="3.5 3.5"/>
<line x1="1425.5" y1="783.7" x2="1425.5" y2="1402.7" stroke="#e4e4e4" stroke-width="1" stroke-linecap="butt" stroke-dasharray="3.5 3.5"/>
<line x1="1444.4" y1="783.7" x2="1444.4" y2="1402.7" stroke="#e4e4e4" stroke-width="1" stroke-linecap="butt" stroke-dasharray="3.5 3.5"/>
<line x1="1461.1" y1="783.7" x2="1461.1" y2="1402.7" stroke="#e4e4e4" stroke-width="1" stroke-linecap="butt" stroke-dasharray="3.5 3.5"/>
<line x1="1574.1" y1="783.7" x2="1574.1" y2="1402.7" stroke="#e4e4e4" stroke-width="1" stroke-linecap="butt" stroke-dasharray="3.5 3.5"/>
<line x1="1631.5" y1="783.7" x2="1631.5" y2="1402.7" stroke="#e4e4e4" stroke-width="1" stroke-linecap="butt" stroke-dasharray="3.5 3.5"/>
<line x1="1672.3" y1="783.7" x2="1672.3" y2="1402.7" stroke="#e4e4e4" stroke-width="1" stroke-linecap="butt" stroke-dasharray="3.5 3.5"/>
<line x1="1703.9" y1="783.7" x2="1703.9" y2="1402.7" stroke="#e4e4e4" stroke-width="1" stroke-linecap="butt" stroke-dasharray="3.5 3.5"/>
<line x1="1729.7" y1="783.7" x2="1729.7" y2="1402.7" stroke="#e4e4e4" stroke-width="1" stroke-linecap="butt" stroke-dasharray="3.5 3.5"/>
<line x1="1751.5" y1="783.7" x2="1751.5" y2="1402.7" stroke="#e4e4e4" stroke-width="1" stroke-linecap="butt" stroke-dasharray="3.5 3.5"/>
<line x1="1770.4" y1="783.7" x2="1770.4" y2="1402.7" stroke="#e4e4e4" stroke-width="1" stroke-linecap="butt" stroke-dasharray="3.5 3.5"/>
<line x1="1787.1" y1="783.7" x2="1787.1" y2="1402.7" stroke="#e4e4e4" stroke-width="1" stroke-linecap="butt" stroke-dasharray="3.5 3.5"/>
<line x1="1045.2" y1="1371.8" x2="1802" y2="1371.8" stroke="#e4e4e4" stroke-width="1" stroke-linecap="butt" stroke-dasharray="3.5 3.5"/>
<line x1="1045.2" y1="1340.8" x2="1802" y2="1340.8" stroke="#e4e4e4" stroke-width="1" stroke-linecap="butt" stroke-dasharray="3.5 3.5"/>
<line x1="1045.2" y1="1309.8" x2="1802" y2="1309.8" stroke="#e4e4e4" stroke-width="1" stroke-linecap="butt" stroke-dasharray="3.5 3.5"/>
<line x1="1045.2" y1="1278.9" x2="1802" y2="1278.9" stroke="#e4e4e4" stroke-width="1" stroke-linecap="butt" stroke-dasharray="3.5 3.5"/>
<line x1="1045.2" y1="1217" x2="1802" y2="1217" stroke="#e4e4e4" stroke-width="1" stroke-linecap="butt" stroke-dasharray="3.5 3.5"/>
<line x1="1045.2" y1="1186" x2="1802" y2="1186" stroke="#e4e4e4" stroke-width="1" stroke-linecap="butt" stroke-dasharray="3.5 3.5"/>
<line x1="1045.2" y1="1155.1" x2="1802" y2="1155.1" stroke="#e4e4e4" stroke-width="1" stroke-linecap="butt" stroke-dasharray="3.5 3.5"/>
<line x1="1045.2" y1="1124.2" x2="1802" y2="1124.2" stroke="#e4e4e4" stroke-width="1" stroke-linecap="butt" stroke-dasharray="3.5 3.5"/>
<line x1="1045.2" y1="1062.2" x2="1802" y2="1062.2" stroke="#e4e4e4" stroke-width="1" stroke-linecap="butt" stroke-dasharray="3.5 3.5"/>
<line x1="1045.2" y1="1031.3" x2="1802" y2="1031.3" stroke="#e4e4e4" stroke-width="1" stroke-linecap="butt" stroke-dasharray="3.5 3.5"/>
<line x1="1045.2" y1="1000.4" x2="1802" y2="1000.4" stroke="#e4e4e4" stroke-width="1" stroke-linecap="butt" stroke-dasharray="3.5 3.5"/>
<line x1="1045.2" y1="969.4" x2="1802" y2="969.4" stroke="#e4e4e4" stroke-width="1" stroke-linecap="butt" stroke-dasharray="3.5 3.5"/>
<line x1="1045.2" y1="907.5" x2="1802" y2="907.5" stroke="#e4e4e4" stroke-width="1" stroke-linecap="butt" stroke-dasharray="3.5 3.5"/>
<line x1="1045.2" y1="876.5" x2="1802" y2="876.5" stroke="#e4e4e4" stroke-width="1" stroke-linecap="butt" stroke-dasharray="3.5 3.5"/>
<line x1="1045.2" y1="845.6" x2="1802" y2="845.6" stroke="#e4e4e4" stroke-width="1" stroke-linecap="butt" stroke-dasharray="3.5 3.5"/>
<line x1="1045.2" y1="814.7" x2="1802" y2="814.7" stroke="#e4e4e4" stroke-width="1" stroke-linecap="butt" stroke-dasharray="3.5 3.5"/>
<line x1="1150" y1="783.7" x2="1150" y2="1402.7" stroke="#8c8c8c" stroke-width="1.4" stroke-linecap="butt"/>
<line x1="1476" y1="783.7" x2="1476" y2="1402.7" stroke="#8c8c8c" stroke-width="1.4" stroke-linecap="butt"/>
<line x1="1045.2" y1="1247.9" x2="1802" y2="1247.9" stroke="#8c8c8c" stroke-width="1.4" stroke-linecap="butt"/>
<line x1="1045.2" y1="1093.2" x2="1802" y2="1093.2" stroke="#8c8c8c" stroke-width="1.4" stroke-linecap="butt"/>
<line x1="1045.2" y1="938.5" x2="1802" y2="938.5" stroke="#8c8c8c" stroke-width="1.4" stroke-linecap="butt"/>
<clipPath id="cd"><rect x="1045.2" y="783.7" width="756.8" height="619"/></clipPath>
<g clip-path="url(#cd)">
<line x1="1146.4" y1="937.4" x2="1184.9" y2="988.6" stroke="#8f9bff" stroke-width="3.6" stroke-linecap="round"/>
<line x1="1207.3" y1="1016.8" x2="1230.2" y2="1044.1" stroke="#8f9bff" stroke-width="3.6" stroke-linecap="round"/>
<line x1="1256.2" y1="1068.7" x2="1288.1" y2="1092.7" stroke="#8f9bff" stroke-width="3.6" stroke-linecap="round"/>
<line x1="1317.4" y1="1113.6" x2="1330.8" y2="1122.7" stroke="#8f9bff" stroke-width="3.6" stroke-linecap="round"/>
<line x1="1356.6" y1="1147.1" x2="1382" y2="1180.7" stroke="#8f9bff" stroke-width="3.6" stroke-linecap="round"/>
<line x1="1407" y1="1206.2" x2="1472.5" y2="1257.9" stroke="#8f9bff" stroke-width="3.6" stroke-linecap="round"/>
<line x1="1501.1" y1="1279.7" x2="1567.5" y2="1328.1" stroke="#8f9bff" stroke-width="3.6" stroke-linecap="round"/>
<line x1="1598.9" y1="1345" x2="1693.2" y2="1380.3" stroke="#8f9bff" stroke-width="3.6" stroke-linecap="round"/>
<line x1="1132.4" y1="903.3" x2="1180.6" y2="968.5" stroke="#8f9bff" stroke-width="3.6" stroke-linecap="round"/>
<line x1="1204.3" y1="995.4" x2="1222.2" y2="1012.6" stroke="#8f9bff" stroke-width="3.6" stroke-linecap="round"/>
<line x1="1249.5" y1="1035.9" x2="1281.7" y2="1060.4" stroke="#8f9bff" stroke-width="3.6" stroke-linecap="round"/>
<line x1="1310.9" y1="1081.5" x2="1324.9" y2="1091.1" stroke="#8f9bff" stroke-width="3.6" stroke-linecap="round"/>
<line x1="1352.6" y1="1114" x2="1374.3" y2="1135.5" stroke="#8f9bff" stroke-width="3.6" stroke-linecap="round"/>
<line x1="1401.7" y1="1158.7" x2="1466.4" y2="1205.2" stroke="#8f9bff" stroke-width="3.6" stroke-linecap="round"/>
<line x1="1495.3" y1="1226.6" x2="1563" y2="1278" stroke="#8f9bff" stroke-width="3.6" stroke-linecap="round"/>
<line x1="1589.8" y1="1301.9" x2="1687.5" y2="1403" stroke="#8f9bff" stroke-width="3.6" stroke-linecap="round"/>
<line x1="1127.5" y1="906.7" x2="1169.7" y2="944.2" stroke="#0a0a82" stroke-width="4.6" stroke-linecap="round"/>
<line x1="1197.7" y1="966.9" x2="1214.1" y2="979.2" stroke="#0a0a82" stroke-width="4.6" stroke-linecap="round"/>
<line x1="1243.5" y1="1000" x2="1275.1" y2="1021.7" stroke="#0a0a82" stroke-width="4.6" stroke-linecap="round"/>
<line x1="1305.3" y1="1041.3" x2="1323" y2="1052.3" stroke="#0a0a82" stroke-width="4.6" stroke-linecap="round"/>
<line x1="1352.8" y1="1072.4" x2="1365.9" y2="1081.9" stroke="#0a0a82" stroke-width="4.6" stroke-linecap="round"/>
<line x1="1395.2" y1="1102.7" x2="1459.2" y2="1146.5" stroke="#0a0a82" stroke-width="4.6" stroke-linecap="round"/>
<line x1="1488.4" y1="1167.5" x2="1553" y2="1215.9" stroke="#0a0a82" stroke-width="4.6" stroke-linecap="round"/>
<line x1="1582.1" y1="1237.1" x2="1683.8" y2="1309.6" stroke="#0a0a82" stroke-width="4.6" stroke-linecap="round"/>
<line x1="1706.8" y1="1336" x2="1747.7" y2="1414" stroke="#0a0a82" stroke-width="4.6" stroke-linecap="round"/>
<line x1="1132.4" y1="939.3" x2="1175" y2="976" stroke="#0a0a82" stroke-width="4.6" stroke-linecap="round"/>
<line x1="1202.9" y1="998.6" x2="1219.4" y2="1011.2" stroke="#0a0a82" stroke-width="4.6" stroke-linecap="round"/>
<line x1="1248.5" y1="1032.3" x2="1281.2" y2="1054.7" stroke="#0a0a82" stroke-width="4.6" stroke-linecap="round"/>
<line x1="1310.9" y1="1075" x2="1324.1" y2="1083.9" stroke="#0a0a82" stroke-width="4.6" stroke-linecap="round"/>
<line x1="1354.6" y1="1102.9" x2="1371" y2="1112.2" stroke="#0a0a82" stroke-width="4.6" stroke-linecap="round"/>
<line x1="1401.9" y1="1130.7" x2="1465.3" y2="1170.4" stroke="#0a0a82" stroke-width="4.6" stroke-linecap="round"/>
<line x1="1495.4" y1="1190.2" x2="1562.1" y2="1236.2" stroke="#0a0a82" stroke-width="4.6" stroke-linecap="round"/>
<line x1="1591.8" y1="1256.5" x2="1690.8" y2="1323.9" stroke="#0a0a82" stroke-width="4.6" stroke-linecap="round"/>
<line x1="1714.1" y1="1349.9" x2="1753.6" y2="1424.1" stroke="#0a0a82" stroke-width="4.6" stroke-linecap="round"/>
<path d="M1121.1 931.5L1150.1 931.5L1135.6 906Z" fill="#8f9bff"/>
<line x1="1128.8" y1="915" x2="1142.3" y2="915" stroke="#8f9bff" stroke-width="2.2" stroke-linecap="butt"/>
<line x1="1128.8" y1="931" x2="1142.3" y2="931" stroke="#8f9bff" stroke-width="2.2" stroke-linecap="butt"/>
<line x1="1118.8" y1="925" x2="1152.4" y2="925" stroke="#8f9bff" stroke-width="2.6" stroke-linecap="butt"/>
<line x1="1118.8" y1="918.5" x2="1118.8" y2="931.5" stroke="#8f9bff" stroke-width="2.6" stroke-linecap="butt"/>
<line x1="1152.4" y1="918.5" x2="1152.4" y2="931.5" stroke="#8f9bff" stroke-width="2.6" stroke-linecap="butt"/>
<path d="M1181.2 1011.5L1210.2 1011.5L1195.7 986Z" fill="#8f9bff"/>
<line x1="1189" y1="995" x2="1202.5" y2="995" stroke="#8f9bff" stroke-width="2.2" stroke-linecap="butt"/>
<line x1="1189" y1="1011" x2="1202.5" y2="1011" stroke="#8f9bff" stroke-width="2.2" stroke-linecap="butt"/>
<line x1="1178.9" y1="1005" x2="1212.5" y2="1005" stroke="#8f9bff" stroke-width="2.6" stroke-linecap="butt"/>
<line x1="1178.9" y1="998.5" x2="1178.9" y2="1011.5" stroke="#8f9bff" stroke-width="2.6" stroke-linecap="butt"/>
<line x1="1212.5" y1="998.5" x2="1212.5" y2="1011.5" stroke="#8f9bff" stroke-width="2.6" stroke-linecap="butt"/>
<path d="M1227.3 1066.4L1256.3 1066.4L1241.8 1040.9Z" fill="#8f9bff"/>
<line x1="1241.8" y1="1041.1" x2="1241.8" y2="1042.9" stroke="#8f9bff" stroke-width="2.2" stroke-linecap="butt"/>
<line x1="1241.8" y1="1065.9" x2="1241.8" y2="1074.7" stroke="#8f9bff" stroke-width="2.2" stroke-linecap="butt"/>
<line x1="1235" y1="1041.1" x2="1248.5" y2="1041.1" stroke="#8f9bff" stroke-width="2.2" stroke-linecap="butt"/>
<line x1="1235" y1="1074.7" x2="1248.5" y2="1074.7" stroke="#8f9bff" stroke-width="2.2" stroke-linecap="butt"/>
<line x1="1225" y1="1059.9" x2="1258.6" y2="1059.9" stroke="#8f9bff" stroke-width="2.6" stroke-linecap="butt"/>
<line x1="1225" y1="1053.4" x2="1225" y2="1066.4" stroke="#8f9bff" stroke-width="2.6" stroke-linecap="butt"/>
<line x1="1258.6" y1="1053.4" x2="1258.6" y2="1066.4" stroke="#8f9bff" stroke-width="2.6" stroke-linecap="butt"/>
<path d="M1288 1112L1317 1112L1302.5 1086.5Z" fill="#8f9bff"/>
<line x1="1295.8" y1="1095.5" x2="1309.2" y2="1095.5" stroke="#8f9bff" stroke-width="2.2" stroke-linecap="butt"/>
<line x1="1295.8" y1="1111.5" x2="1309.2" y2="1111.5" stroke="#8f9bff" stroke-width="2.2" stroke-linecap="butt"/>
<line x1="1285.7" y1="1105.5" x2="1319.3" y2="1105.5" stroke="#8f9bff" stroke-width="2.6" stroke-linecap="butt"/>
<line x1="1285.7" y1="1099" x2="1285.7" y2="1112" stroke="#8f9bff" stroke-width="2.6" stroke-linecap="butt"/>
<line x1="1319.3" y1="1099" x2="1319.3" y2="1112" stroke="#8f9bff" stroke-width="2.6" stroke-linecap="butt"/>
<path d="M1331.2 1141.3L1360.2 1141.3L1345.7 1115.8Z" fill="#8f9bff"/>
<line x1="1345.7" y1="1116.3" x2="1345.7" y2="1117.8" stroke="#8f9bff" stroke-width="2.2" stroke-linecap="butt"/>
<line x1="1345.7" y1="1140.8" x2="1345.7" y2="1149.3" stroke="#8f9bff" stroke-width="2.2" stroke-linecap="butt"/>
<line x1="1339" y1="1116.3" x2="1352.5" y2="1116.3" stroke="#8f9bff" stroke-width="2.2" stroke-linecap="butt"/>
<line x1="1339" y1="1149.3" x2="1352.5" y2="1149.3" stroke="#8f9bff" stroke-width="2.2" stroke-linecap="butt"/>
<line x1="1328.9" y1="1134.8" x2="1362.5" y2="1134.8" stroke="#8f9bff" stroke-width="2.6" stroke-linecap="butt"/>
<line x1="1328.9" y1="1128.3" x2="1328.9" y2="1141.3" stroke="#8f9bff" stroke-width="2.6" stroke-linecap="butt"/>
<line x1="1362.5" y1="1128.3" x2="1362.5" y2="1141.3" stroke="#8f9bff" stroke-width="2.6" stroke-linecap="butt"/>
<path d="M1378.4 1203.5L1407.4 1203.5L1392.9 1178Z" fill="#8f9bff"/>
<line x1="1392.9" y1="1165" x2="1392.9" y2="1180" stroke="#8f9bff" stroke-width="2.2" stroke-linecap="butt"/>
<line x1="1392.9" y1="1203" x2="1392.9" y2="1225" stroke="#8f9bff" stroke-width="2.2" stroke-linecap="butt"/>
<line x1="1386.2" y1="1165" x2="1399.7" y2="1165" stroke="#8f9bff" stroke-width="2.2" stroke-linecap="butt"/>
<line x1="1386.2" y1="1225" x2="1399.7" y2="1225" stroke="#8f9bff" stroke-width="2.2" stroke-linecap="butt"/>
<line x1="1376.1" y1="1197" x2="1409.7" y2="1197" stroke="#8f9bff" stroke-width="2.6" stroke-linecap="butt"/>
<line x1="1376.1" y1="1190.5" x2="1376.1" y2="1203.5" stroke="#8f9bff" stroke-width="2.6" stroke-linecap="butt"/>
<line x1="1409.7" y1="1190.5" x2="1409.7" y2="1203.5" stroke="#8f9bff" stroke-width="2.6" stroke-linecap="butt"/>
<path d="M1472.1 1277.6L1501.1 1277.6L1486.6 1252.1Z" fill="#8f9bff"/>
<line x1="1486.6" y1="1226.6" x2="1486.6" y2="1254.1" stroke="#8f9bff" stroke-width="2.2" stroke-linecap="butt"/>
<line x1="1486.6" y1="1277.1" x2="1486.6" y2="1311.6" stroke="#8f9bff" stroke-width="2.2" stroke-linecap="butt"/>
<line x1="1479.8" y1="1226.6" x2="1493.3" y2="1226.6" stroke="#8f9bff" stroke-width="2.2" stroke-linecap="butt"/>
<line x1="1479.8" y1="1311.6" x2="1493.3" y2="1311.6" stroke="#8f9bff" stroke-width="2.2" stroke-linecap="butt"/>
<line x1="1469.8" y1="1271.1" x2="1503.4" y2="1271.1" stroke="#8f9bff" stroke-width="2.6" stroke-linecap="butt"/>
<line x1="1469.8" y1="1264.6" x2="1469.8" y2="1277.6" stroke="#8f9bff" stroke-width="2.6" stroke-linecap="butt"/>
<line x1="1503.4" y1="1264.6" x2="1503.4" y2="1277.6" stroke="#8f9bff" stroke-width="2.6" stroke-linecap="butt"/>
<path d="M1567.5 1347.2L1596.5 1347.2L1582 1321.7Z" fill="#8f9bff"/>
<line x1="1582" y1="1293.7" x2="1582" y2="1323.7" stroke="#8f9bff" stroke-width="2.2" stroke-linecap="butt"/>
<line x1="1582" y1="1346.7" x2="1582" y2="1383.7" stroke="#8f9bff" stroke-width="2.2" stroke-linecap="butt"/>
<line x1="1575.2" y1="1293.7" x2="1588.8" y2="1293.7" stroke="#8f9bff" stroke-width="2.2" stroke-linecap="butt"/>
<line x1="1575.2" y1="1383.7" x2="1588.8" y2="1383.7" stroke="#8f9bff" stroke-width="2.2" stroke-linecap="butt"/>
<line x1="1565.2" y1="1340.7" x2="1598.8" y2="1340.7" stroke="#8f9bff" stroke-width="2.6" stroke-linecap="butt"/>
<line x1="1565.2" y1="1334.2" x2="1565.2" y2="1347.2" stroke="#8f9bff" stroke-width="2.6" stroke-linecap="butt"/>
<line x1="1598.8" y1="1334.2" x2="1598.8" y2="1347.2" stroke="#8f9bff" stroke-width="2.6" stroke-linecap="butt"/>
<path d="M1695.6 1395.1L1724.6 1395.1L1710.1 1369.6Z" fill="#8f9bff"/>
<line x1="1710.1" y1="1358.6" x2="1710.1" y2="1371.6" stroke="#8f9bff" stroke-width="2.2" stroke-linecap="butt"/>
<line x1="1710.1" y1="1394.6" x2="1710.1" y2="1414.6" stroke="#8f9bff" stroke-width="2.2" stroke-linecap="butt"/>
<line x1="1703.3" y1="1358.6" x2="1716.8" y2="1358.6" stroke="#8f9bff" stroke-width="2.2" stroke-linecap="butt"/>
<line x1="1703.3" y1="1414.6" x2="1716.8" y2="1414.6" stroke="#8f9bff" stroke-width="2.2" stroke-linecap="butt"/>
<line x1="1693.3" y1="1388.6" x2="1726.9" y2="1388.6" stroke="#8f9bff" stroke-width="2.6" stroke-linecap="butt"/>
<line x1="1693.3" y1="1382.1" x2="1693.3" y2="1395.1" stroke="#8f9bff" stroke-width="2.6" stroke-linecap="butt"/>
<line x1="1726.9" y1="1382.1" x2="1726.9" y2="1395.1" stroke="#8f9bff" stroke-width="2.6" stroke-linecap="butt"/>
<path d="M1099.5 903.2L1128.5 903.2L1114 877.7Z" fill="#0a0a82"/>
<line x1="1114" y1="878.7" x2="1114" y2="879.7" stroke="#0a0a82" stroke-width="2.6" stroke-linecap="butt"/>
<line x1="1114" y1="902.7" x2="1114" y2="910.7" stroke="#0a0a82" stroke-width="2.6" stroke-linecap="butt"/>
<line x1="1107.2" y1="878.7" x2="1120.8" y2="878.7" stroke="#0a0a82" stroke-width="2.6" stroke-linecap="butt"/>
<line x1="1107.2" y1="910.7" x2="1120.8" y2="910.7" stroke="#0a0a82" stroke-width="2.6" stroke-linecap="butt"/>
<path d="M1168.7 964.7L1197.7 964.7L1183.2 939.2Z" fill="#0a0a82"/>
<line x1="1183.2" y1="939.7" x2="1183.2" y2="941.2" stroke="#0a0a82" stroke-width="2.6" stroke-linecap="butt"/>
<line x1="1183.2" y1="964.2" x2="1183.2" y2="972.7" stroke="#0a0a82" stroke-width="2.6" stroke-linecap="butt"/>
<line x1="1176.5" y1="939.7" x2="1190" y2="939.7" stroke="#0a0a82" stroke-width="2.6" stroke-linecap="butt"/>
<line x1="1176.5" y1="972.7" x2="1190" y2="972.7" stroke="#0a0a82" stroke-width="2.6" stroke-linecap="butt"/>
<path d="M1214.1 998.4L1243.1 998.4L1228.6 972.9Z" fill="#0a0a82"/>
<line x1="1228.6" y1="973.4" x2="1228.6" y2="974.9" stroke="#0a0a82" stroke-width="2.6" stroke-linecap="butt"/>
<line x1="1228.6" y1="997.9" x2="1228.6" y2="1006.4" stroke="#0a0a82" stroke-width="2.6" stroke-linecap="butt"/>
<line x1="1221.8" y1="973.4" x2="1235.3" y2="973.4" stroke="#0a0a82" stroke-width="2.6" stroke-linecap="butt"/>
<line x1="1221.8" y1="1006.4" x2="1235.3" y2="1006.4" stroke="#0a0a82" stroke-width="2.6" stroke-linecap="butt"/>
<path d="M1275.5 1040.3L1304.5 1040.3L1290 1014.8Z" fill="#0a0a82"/>
<line x1="1290" y1="1015.3" x2="1290" y2="1016.8" stroke="#0a0a82" stroke-width="2.6" stroke-linecap="butt"/>
<line x1="1290" y1="1039.8" x2="1290" y2="1048.3" stroke="#0a0a82" stroke-width="2.6" stroke-linecap="butt"/>
<line x1="1283.2" y1="1015.3" x2="1296.8" y2="1015.3" stroke="#0a0a82" stroke-width="2.6" stroke-linecap="butt"/>
<line x1="1283.2" y1="1048.3" x2="1296.8" y2="1048.3" stroke="#0a0a82" stroke-width="2.6" stroke-linecap="butt"/>
<path d="M1323.8 1070.3L1352.8 1070.3L1338.3 1044.8Z" fill="#0a0a82"/>
<line x1="1338.3" y1="1044.8" x2="1338.3" y2="1046.8" stroke="#0a0a82" stroke-width="2.6" stroke-linecap="butt"/>
<line x1="1338.3" y1="1069.8" x2="1338.3" y2="1078.8" stroke="#0a0a82" stroke-width="2.6" stroke-linecap="butt"/>
<line x1="1331.5" y1="1044.8" x2="1345" y2="1044.8" stroke="#0a0a82" stroke-width="2.6" stroke-linecap="butt"/>
<line x1="1331.5" y1="1078.8" x2="1345" y2="1078.8" stroke="#0a0a82" stroke-width="2.6" stroke-linecap="butt"/>
<path d="M1365.9 1101L1394.9 1101L1380.4 1075.5Z" fill="#0a0a82"/>
<line x1="1380.4" y1="1076" x2="1380.4" y2="1077.5" stroke="#0a0a82" stroke-width="2.6" stroke-linecap="butt"/>
<line x1="1380.4" y1="1100.5" x2="1380.4" y2="1109" stroke="#0a0a82" stroke-width="2.6" stroke-linecap="butt"/>
<line x1="1373.7" y1="1076" x2="1387.2" y2="1076" stroke="#0a0a82" stroke-width="2.6" stroke-linecap="butt"/>
<line x1="1373.7" y1="1109" x2="1387.2" y2="1109" stroke="#0a0a82" stroke-width="2.6" stroke-linecap="butt"/>
<path d="M1459.5 1165.2L1488.5 1165.2L1474 1139.7Z" fill="#0a0a82"/>
<line x1="1474" y1="1140.7" x2="1474" y2="1141.7" stroke="#0a0a82" stroke-width="2.6" stroke-linecap="butt"/>
<line x1="1474" y1="1164.7" x2="1474" y2="1172.7" stroke="#0a0a82" stroke-width="2.6" stroke-linecap="butt"/>
<line x1="1467.2" y1="1140.7" x2="1480.8" y2="1140.7" stroke="#0a0a82" stroke-width="2.6" stroke-linecap="butt"/>
<line x1="1467.2" y1="1172.7" x2="1480.8" y2="1172.7" stroke="#0a0a82" stroke-width="2.6" stroke-linecap="butt"/>
<path d="M1552.9 1235.2L1581.9 1235.2L1567.4 1209.7Z" fill="#0a0a82"/>
<line x1="1567.4" y1="1234.7" x2="1567.4" y2="1240.7" stroke="#0a0a82" stroke-width="2.6" stroke-linecap="butt"/>
<line x1="1560.7" y1="1212.7" x2="1574.2" y2="1212.7" stroke="#0a0a82" stroke-width="2.6" stroke-linecap="butt"/>
<line x1="1560.7" y1="1240.7" x2="1574.2" y2="1240.7" stroke="#0a0a82" stroke-width="2.6" stroke-linecap="butt"/>
<path d="M1684 1328.5L1713 1328.5L1698.5 1303Z" fill="#0a0a82"/>
<line x1="1698.5" y1="1328" x2="1698.5" y2="1332" stroke="#0a0a82" stroke-width="2.6" stroke-linecap="butt"/>
<line x1="1691.8" y1="1308" x2="1705.2" y2="1308" stroke="#0a0a82" stroke-width="2.6" stroke-linecap="butt"/>
<line x1="1691.8" y1="1332" x2="1705.2" y2="1332" stroke="#0a0a82" stroke-width="2.6" stroke-linecap="butt"/>
<path d="M1741.5 1438.5L1770.5 1438.5L1756 1413Z" fill="#0a0a82"/>
<line x1="1756" y1="1414" x2="1756" y2="1415" stroke="#0a0a82" stroke-width="2.6" stroke-linecap="butt"/>
<line x1="1756" y1="1438" x2="1756" y2="1446" stroke="#0a0a82" stroke-width="2.6" stroke-linecap="butt"/>
<line x1="1749.2" y1="1414" x2="1762.8" y2="1414" stroke="#0a0a82" stroke-width="2.6" stroke-linecap="butt"/>
<line x1="1749.2" y1="1446" x2="1762.8" y2="1446" stroke="#0a0a82" stroke-width="2.6" stroke-linecap="butt"/>
<line x1="1121.7" y1="871.8" x2="1121.7" y2="873.8" stroke="#8f9bff" stroke-width="2.2" stroke-linecap="butt"/>
<line x1="1121.7" y1="896.8" x2="1121.7" y2="905.8" stroke="#8f9bff" stroke-width="2.2" stroke-linecap="butt"/>
<line x1="1115" y1="871.8" x2="1128.5" y2="871.8" stroke="#8f9bff" stroke-width="2.2" stroke-linecap="butt"/>
<line x1="1115" y1="905.8" x2="1128.5" y2="905.8" stroke="#8f9bff" stroke-width="2.2" stroke-linecap="butt"/>
<path d="M1110.9 894.9L1132.5 894.9L1121.7 875.3Z" fill="#fff" stroke="#8f9bff" stroke-width="4.8" stroke-linejoin="miter"/>
<rect x="1119.3" y="885.7" width="4.8" height="3.2" fill="#8f9bff"/>
<line x1="1191.3" y1="991" x2="1191.3" y2="997" stroke="#8f9bff" stroke-width="2.2" stroke-linecap="butt"/>
<line x1="1184.5" y1="969" x2="1198" y2="969" stroke="#8f9bff" stroke-width="2.2" stroke-linecap="butt"/>
<line x1="1184.5" y1="997" x2="1198" y2="997" stroke="#8f9bff" stroke-width="2.2" stroke-linecap="butt"/>
<path d="M1180.5 989.1L1202.1 989.1L1191.3 969.5Z" fill="#fff" stroke="#8f9bff" stroke-width="4.8" stroke-linejoin="miter"/>
<rect x="1188.9" y="979.9" width="4.8" height="3.2" fill="#8f9bff"/>
<line x1="1235.2" y1="1033" x2="1235.2" y2="1039" stroke="#8f9bff" stroke-width="2.2" stroke-linecap="butt"/>
<line x1="1228.5" y1="1011" x2="1242" y2="1011" stroke="#8f9bff" stroke-width="2.2" stroke-linecap="butt"/>
<line x1="1228.5" y1="1039" x2="1242" y2="1039" stroke="#8f9bff" stroke-width="2.2" stroke-linecap="butt"/>
<path d="M1224.4 1031.1L1246 1031.1L1235.2 1011.5Z" fill="#fff" stroke="#8f9bff" stroke-width="4.8" stroke-linejoin="miter"/>
<rect x="1232.8" y="1021.9" width="4.8" height="3.2" fill="#8f9bff"/>
<line x1="1296" y1="1079.3" x2="1296" y2="1085.3" stroke="#8f9bff" stroke-width="2.2" stroke-linecap="butt"/>
<line x1="1289.2" y1="1057.3" x2="1302.8" y2="1057.3" stroke="#8f9bff" stroke-width="2.2" stroke-linecap="butt"/>
<line x1="1289.2" y1="1085.3" x2="1302.8" y2="1085.3" stroke="#8f9bff" stroke-width="2.2" stroke-linecap="butt"/>
<path d="M1285.2 1077.4L1306.8 1077.4L1296 1057.8Z" fill="#fff" stroke="#8f9bff" stroke-width="4.8" stroke-linejoin="miter"/>
<rect x="1293.6" y="1068.2" width="4.8" height="3.2" fill="#8f9bff"/>
<line x1="1339.8" y1="1109.3" x2="1339.8" y2="1115.3" stroke="#8f9bff" stroke-width="2.2" stroke-linecap="butt"/>
<line x1="1333" y1="1087.3" x2="1346.5" y2="1087.3" stroke="#8f9bff" stroke-width="2.2" stroke-linecap="butt"/>
<line x1="1333" y1="1115.3" x2="1346.5" y2="1115.3" stroke="#8f9bff" stroke-width="2.2" stroke-linecap="butt"/>
<path d="M1329 1107.4L1350.6 1107.4L1339.8 1087.8Z" fill="#fff" stroke="#8f9bff" stroke-width="4.8" stroke-linejoin="miter"/>
<rect x="1337.4" y="1098.2" width="4.8" height="3.2" fill="#8f9bff"/>
<line x1="1387.1" y1="1132.2" x2="1387.1" y2="1133.2" stroke="#8f9bff" stroke-width="2.2" stroke-linecap="butt"/>
<line x1="1387.1" y1="1156.2" x2="1387.1" y2="1164.2" stroke="#8f9bff" stroke-width="2.2" stroke-linecap="butt"/>
<line x1="1380.3" y1="1132.2" x2="1393.8" y2="1132.2" stroke="#8f9bff" stroke-width="2.2" stroke-linecap="butt"/>
<line x1="1380.3" y1="1164.2" x2="1393.8" y2="1164.2" stroke="#8f9bff" stroke-width="2.2" stroke-linecap="butt"/>
<path d="M1376.3 1154.3L1397.9 1154.3L1387.1 1134.7Z" fill="#fff" stroke="#8f9bff" stroke-width="4.8" stroke-linejoin="miter"/>
<rect x="1384.7" y="1145.1" width="4.8" height="3.2" fill="#8f9bff"/>
<line x1="1481" y1="1195.7" x2="1481" y2="1200.7" stroke="#8f9bff" stroke-width="2.2" stroke-linecap="butt"/>
<line x1="1481" y1="1223.7" x2="1481" y2="1235.7" stroke="#8f9bff" stroke-width="2.2" stroke-linecap="butt"/>
<line x1="1474.2" y1="1195.7" x2="1487.8" y2="1195.7" stroke="#8f9bff" stroke-width="2.2" stroke-linecap="butt"/>
<line x1="1474.2" y1="1235.7" x2="1487.8" y2="1235.7" stroke="#8f9bff" stroke-width="2.2" stroke-linecap="butt"/>
<path d="M1470.2 1221.8L1491.8 1221.8L1481 1202.2Z" fill="#fff" stroke="#8f9bff" stroke-width="4.8" stroke-linejoin="miter"/>
<rect x="1478.6" y="1212.6" width="4.8" height="3.2" fill="#8f9bff"/>
<line x1="1577.3" y1="1265.9" x2="1577.3" y2="1273.9" stroke="#8f9bff" stroke-width="2.2" stroke-linecap="butt"/>
<line x1="1577.3" y1="1296.9" x2="1577.3" y2="1311.9" stroke="#8f9bff" stroke-width="2.2" stroke-linecap="butt"/>
<line x1="1570.5" y1="1265.9" x2="1584" y2="1265.9" stroke="#8f9bff" stroke-width="2.2" stroke-linecap="butt"/>
<line x1="1570.5" y1="1311.9" x2="1584" y2="1311.9" stroke="#8f9bff" stroke-width="2.2" stroke-linecap="butt"/>
<path d="M1566.5 1295L1588.1 1295L1577.3 1275.4Z" fill="#fff" stroke="#8f9bff" stroke-width="4.8" stroke-linejoin="miter"/>
<rect x="1574.9" y="1285.8" width="4.8" height="3.2" fill="#8f9bff"/>
<line x1="1700" y1="1386" x2="1700" y2="1401" stroke="#8f9bff" stroke-width="2.2" stroke-linecap="butt"/>
<line x1="1700" y1="1424" x2="1700" y2="1446" stroke="#8f9bff" stroke-width="2.2" stroke-linecap="butt"/>
<line x1="1693.2" y1="1386" x2="1706.8" y2="1386" stroke="#8f9bff" stroke-width="2.2" stroke-linecap="butt"/>
<line x1="1693.2" y1="1446" x2="1706.8" y2="1446" stroke="#8f9bff" stroke-width="2.2" stroke-linecap="butt"/>
<path d="M1689.2 1422.1L1710.8 1422.1L1700 1402.5Z" fill="#fff" stroke="#8f9bff" stroke-width="4.8" stroke-linejoin="miter"/>
<rect x="1697.6" y="1412.9" width="4.8" height="3.2" fill="#8f9bff"/>
<line x1="1118.8" y1="935.6" x2="1118.8" y2="937.6" stroke="#0a0a82" stroke-width="2.6" stroke-linecap="butt"/>
<line x1="1112" y1="917.6" x2="1125.5" y2="917.6" stroke="#0a0a82" stroke-width="2.6" stroke-linecap="butt"/>
<line x1="1112" y1="937.6" x2="1125.5" y2="937.6" stroke="#0a0a82" stroke-width="2.6" stroke-linecap="butt"/>
<path d="M1108 933.7L1129.6 933.7L1118.8 914.1Z" fill="#fff" stroke="#0a0a82" stroke-width="4.8" stroke-linejoin="miter"/>
<rect x="1116.4" y="924.5" width="4.8" height="3.2" fill="#0a0a82"/>
<line x1="1188.6" y1="995.7" x2="1188.6" y2="999.7" stroke="#0a0a82" stroke-width="2.6" stroke-linecap="butt"/>
<line x1="1181.8" y1="975.7" x2="1195.3" y2="975.7" stroke="#0a0a82" stroke-width="2.6" stroke-linecap="butt"/>
<line x1="1181.8" y1="999.7" x2="1195.3" y2="999.7" stroke="#0a0a82" stroke-width="2.6" stroke-linecap="butt"/>
<path d="M1177.8 993.8L1199.4 993.8L1188.6 974.2Z" fill="#fff" stroke="#0a0a82" stroke-width="4.8" stroke-linejoin="miter"/>
<rect x="1186.2" y="984.6" width="4.8" height="3.2" fill="#0a0a82"/>
<line x1="1233.7" y1="1030.1" x2="1233.7" y2="1034.1" stroke="#0a0a82" stroke-width="2.6" stroke-linecap="butt"/>
<line x1="1227" y1="1010.1" x2="1240.5" y2="1010.1" stroke="#0a0a82" stroke-width="2.6" stroke-linecap="butt"/>
<line x1="1227" y1="1034.1" x2="1240.5" y2="1034.1" stroke="#0a0a82" stroke-width="2.6" stroke-linecap="butt"/>
<path d="M1222.9 1028.2L1244.5 1028.2L1233.7 1008.6Z" fill="#fff" stroke="#0a0a82" stroke-width="4.8" stroke-linejoin="miter"/>
<rect x="1231.3" y="1019" width="4.8" height="3.2" fill="#0a0a82"/>
<line x1="1296" y1="1072.9" x2="1296" y2="1077.9" stroke="#0a0a82" stroke-width="2.6" stroke-linecap="butt"/>
<line x1="1289.2" y1="1051.9" x2="1302.8" y2="1051.9" stroke="#0a0a82" stroke-width="2.6" stroke-linecap="butt"/>
<line x1="1289.2" y1="1077.9" x2="1302.8" y2="1077.9" stroke="#0a0a82" stroke-width="2.6" stroke-linecap="butt"/>
<path d="M1285.2 1071L1306.8 1071L1296 1051.4Z" fill="#fff" stroke="#0a0a82" stroke-width="4.8" stroke-linejoin="miter"/>
<rect x="1293.6" y="1061.8" width="4.8" height="3.2" fill="#0a0a82"/>
<line x1="1339" y1="1102" x2="1339" y2="1107" stroke="#0a0a82" stroke-width="2.6" stroke-linecap="butt"/>
<line x1="1332.2" y1="1081" x2="1345.8" y2="1081" stroke="#0a0a82" stroke-width="2.6" stroke-linecap="butt"/>
<line x1="1332.2" y1="1107" x2="1345.8" y2="1107" stroke="#0a0a82" stroke-width="2.6" stroke-linecap="butt"/>
<path d="M1328.2 1100.1L1349.8 1100.1L1339 1080.5Z" fill="#fff" stroke="#0a0a82" stroke-width="4.8" stroke-linejoin="miter"/>
<rect x="1336.6" y="1090.9" width="4.8" height="3.2" fill="#0a0a82"/>
<line x1="1386.6" y1="1129.1" x2="1386.6" y2="1135.1" stroke="#0a0a82" stroke-width="2.6" stroke-linecap="butt"/>
<line x1="1379.8" y1="1107.1" x2="1393.3" y2="1107.1" stroke="#0a0a82" stroke-width="2.6" stroke-linecap="butt"/>
<line x1="1379.8" y1="1135.1" x2="1393.3" y2="1135.1" stroke="#0a0a82" stroke-width="2.6" stroke-linecap="butt"/>
<path d="M1375.8 1127.2L1397.4 1127.2L1386.6 1107.6Z" fill="#fff" stroke="#0a0a82" stroke-width="4.8" stroke-linejoin="miter"/>
<rect x="1384.2" y="1118" width="4.8" height="3.2" fill="#0a0a82"/>
<line x1="1480.6" y1="1188" x2="1480.6" y2="1195" stroke="#0a0a82" stroke-width="2.6" stroke-linecap="butt"/>
<line x1="1473.8" y1="1165" x2="1487.3" y2="1165" stroke="#0a0a82" stroke-width="2.6" stroke-linecap="butt"/>
<line x1="1473.8" y1="1195" x2="1487.3" y2="1195" stroke="#0a0a82" stroke-width="2.6" stroke-linecap="butt"/>
<path d="M1469.8 1186.1L1491.4 1186.1L1480.6 1166.5Z" fill="#fff" stroke="#0a0a82" stroke-width="4.8" stroke-linejoin="miter"/>
<rect x="1478.2" y="1176.9" width="4.8" height="3.2" fill="#0a0a82"/>
<line x1="1576.9" y1="1254.4" x2="1576.9" y2="1261.4" stroke="#0a0a82" stroke-width="2.6" stroke-linecap="butt"/>
<line x1="1570.2" y1="1231.4" x2="1583.7" y2="1231.4" stroke="#0a0a82" stroke-width="2.6" stroke-linecap="butt"/>
<line x1="1570.2" y1="1261.4" x2="1583.7" y2="1261.4" stroke="#0a0a82" stroke-width="2.6" stroke-linecap="butt"/>
<path d="M1566.1 1252.5L1587.7 1252.5L1576.9 1232.9Z" fill="#fff" stroke="#0a0a82" stroke-width="4.8" stroke-linejoin="miter"/>
<rect x="1574.5" y="1243.3" width="4.8" height="3.2" fill="#0a0a82"/>
<line x1="1705.7" y1="1302" x2="1705.7" y2="1319" stroke="#0a0a82" stroke-width="2.6" stroke-linecap="butt"/>
<line x1="1705.7" y1="1342" x2="1705.7" y2="1366" stroke="#0a0a82" stroke-width="2.6" stroke-linecap="butt"/>
<line x1="1699" y1="1302" x2="1712.5" y2="1302" stroke="#0a0a82" stroke-width="2.6" stroke-linecap="butt"/>
<line x1="1699" y1="1366" x2="1712.5" y2="1366" stroke="#0a0a82" stroke-width="2.6" stroke-linecap="butt"/>
<path d="M1694.9 1340.1L1716.5 1340.1L1705.7 1320.5Z" fill="#fff" stroke="#0a0a82" stroke-width="4.8" stroke-linejoin="miter"/>
<rect x="1703.3" y="1330.9" width="4.8" height="3.2" fill="#0a0a82"/>
<line x1="1762" y1="1393" x2="1762" y2="1425" stroke="#0a0a82" stroke-width="2.6" stroke-linecap="butt"/>
<line x1="1762" y1="1448" x2="1762" y2="1487" stroke="#0a0a82" stroke-width="2.6" stroke-linecap="butt"/>
<line x1="1755.2" y1="1393" x2="1768.8" y2="1393" stroke="#0a0a82" stroke-width="2.6" stroke-linecap="butt"/>
<line x1="1755.2" y1="1487" x2="1768.8" y2="1487" stroke="#0a0a82" stroke-width="2.6" stroke-linecap="butt"/>
<path d="M1751.2 1446.1L1772.8 1446.1L1762 1426.5Z" fill="#fff" stroke="#0a0a82" stroke-width="4.8" stroke-linejoin="miter"/>
<rect x="1759.6" y="1436.9" width="4.8" height="3.2" fill="#0a0a82"/>
<line x1="1045.2" y1="872" x2="1802" y2="1374" stroke="#ff0000" stroke-width="7.6" stroke-linecap="butt"/>
</g>
<line x1="1051.9" y1="1402.7" x2="1051.9" y2="1408.9" stroke="#000" stroke-width="4" stroke-linecap="butt"/>
<line x1="1051.9" y1="783.7" x2="1051.9" y2="789.9" stroke="#000" stroke-width="4" stroke-linecap="butt"/>
<line x1="1077.7" y1="1402.7" x2="1077.7" y2="1408.9" stroke="#000" stroke-width="4" stroke-linecap="butt"/>
<line x1="1077.7" y1="783.7" x2="1077.7" y2="789.9" stroke="#000" stroke-width="4" stroke-linecap="butt"/>
<line x1="1099.5" y1="1402.7" x2="1099.5" y2="1408.9" stroke="#000" stroke-width="4" stroke-linecap="butt"/>
<line x1="1099.5" y1="783.7" x2="1099.5" y2="789.9" stroke="#000" stroke-width="4" stroke-linecap="butt"/>
<line x1="1118.4" y1="1402.7" x2="1118.4" y2="1408.9" stroke="#000" stroke-width="4" stroke-linecap="butt"/>
<line x1="1118.4" y1="783.7" x2="1118.4" y2="789.9" stroke="#000" stroke-width="4" stroke-linecap="butt"/>
<line x1="1135.1" y1="1402.7" x2="1135.1" y2="1408.9" stroke="#000" stroke-width="4" stroke-linecap="butt"/>
<line x1="1135.1" y1="783.7" x2="1135.1" y2="789.9" stroke="#000" stroke-width="4" stroke-linecap="butt"/>
<line x1="1150" y1="1402.7" x2="1150" y2="1415.2" stroke="#000" stroke-width="4" stroke-linecap="butt"/>
<line x1="1150" y1="783.7" x2="1150" y2="796.2" stroke="#000" stroke-width="4" stroke-linecap="butt"/>
<line x1="1248.1" y1="1402.7" x2="1248.1" y2="1408.9" stroke="#000" stroke-width="4" stroke-linecap="butt"/>
<line x1="1248.1" y1="783.7" x2="1248.1" y2="789.9" stroke="#000" stroke-width="4" stroke-linecap="butt"/>
<line x1="1305.5" y1="1402.7" x2="1305.5" y2="1408.9" stroke="#000" stroke-width="4" stroke-linecap="butt"/>
<line x1="1305.5" y1="783.7" x2="1305.5" y2="789.9" stroke="#000" stroke-width="4" stroke-linecap="butt"/>
<line x1="1346.3" y1="1402.7" x2="1346.3" y2="1408.9" stroke="#000" stroke-width="4" stroke-linecap="butt"/>
<line x1="1346.3" y1="783.7" x2="1346.3" y2="789.9" stroke="#000" stroke-width="4" stroke-linecap="butt"/>
<line x1="1377.9" y1="1402.7" x2="1377.9" y2="1408.9" stroke="#000" stroke-width="4" stroke-linecap="butt"/>
<line x1="1377.9" y1="783.7" x2="1377.9" y2="789.9" stroke="#000" stroke-width="4" stroke-linecap="butt"/>
<line x1="1403.7" y1="1402.7" x2="1403.7" y2="1408.9" stroke="#000" stroke-width="4" stroke-linecap="butt"/>
<line x1="1403.7" y1="783.7" x2="1403.7" y2="789.9" stroke="#000" stroke-width="4" stroke-linecap="butt"/>
<line x1="1425.5" y1="1402.7" x2="1425.5" y2="1408.9" stroke="#000" stroke-width="4" stroke-linecap="butt"/>
<line x1="1425.5" y1="783.7" x2="1425.5" y2="789.9" stroke="#000" stroke-width="4" stroke-linecap="butt"/>
<line x1="1444.4" y1="1402.7" x2="1444.4" y2="1408.9" stroke="#000" stroke-width="4" stroke-linecap="butt"/>
<line x1="1444.4" y1="783.7" x2="1444.4" y2="789.9" stroke="#000" stroke-width="4" stroke-linecap="butt"/>
<line x1="1461.1" y1="1402.7" x2="1461.1" y2="1408.9" stroke="#000" stroke-width="4" stroke-linecap="butt"/>
<line x1="1461.1" y1="783.7" x2="1461.1" y2="789.9" stroke="#000" stroke-width="4" stroke-linecap="butt"/>
<line x1="1476" y1="1402.7" x2="1476" y2="1415.2" stroke="#000" stroke-width="4" stroke-linecap="butt"/>
<line x1="1476" y1="783.7" x2="1476" y2="796.2" stroke="#000" stroke-width="4" stroke-linecap="butt"/>
<line x1="1574.1" y1="1402.7" x2="1574.1" y2="1408.9" stroke="#000" stroke-width="4" stroke-linecap="butt"/>
<line x1="1574.1" y1="783.7" x2="1574.1" y2="789.9" stroke="#000" stroke-width="4" stroke-linecap="butt"/>
<line x1="1631.5" y1="1402.7" x2="1631.5" y2="1408.9" stroke="#000" stroke-width="4" stroke-linecap="butt"/>
<line x1="1631.5" y1="783.7" x2="1631.5" y2="789.9" stroke="#000" stroke-width="4" stroke-linecap="butt"/>
<line x1="1672.3" y1="1402.7" x2="1672.3" y2="1408.9" stroke="#000" stroke-width="4" stroke-linecap="butt"/>
<line x1="1672.3" y1="783.7" x2="1672.3" y2="789.9" stroke="#000" stroke-width="4" stroke-linecap="butt"/>
<line x1="1703.9" y1="1402.7" x2="1703.9" y2="1408.9" stroke="#000" stroke-width="4" stroke-linecap="butt"/>
<line x1="1703.9" y1="783.7" x2="1703.9" y2="789.9" stroke="#000" stroke-width="4" stroke-linecap="butt"/>
<line x1="1729.7" y1="1402.7" x2="1729.7" y2="1408.9" stroke="#000" stroke-width="4" stroke-linecap="butt"/>
<line x1="1729.7" y1="783.7" x2="1729.7" y2="789.9" stroke="#000" stroke-width="4" stroke-linecap="butt"/>
<line x1="1751.5" y1="1402.7" x2="1751.5" y2="1408.9" stroke="#000" stroke-width="4" stroke-linecap="butt"/>
<line x1="1751.5" y1="783.7" x2="1751.5" y2="789.9" stroke="#000" stroke-width="4" stroke-linecap="butt"/>
<line x1="1770.4" y1="1402.7" x2="1770.4" y2="1408.9" stroke="#000" stroke-width="4" stroke-linecap="butt"/>
<line x1="1770.4" y1="783.7" x2="1770.4" y2="789.9" stroke="#000" stroke-width="4" stroke-linecap="butt"/>
<line x1="1787.1" y1="1402.7" x2="1787.1" y2="1408.9" stroke="#000" stroke-width="4" stroke-linecap="butt"/>
<line x1="1787.1" y1="783.7" x2="1787.1" y2="789.9" stroke="#000" stroke-width="4" stroke-linecap="butt"/>
<line x1="1802" y1="1402.7" x2="1802" y2="1415.2" stroke="#000" stroke-width="4" stroke-linecap="butt"/>
<line x1="1802" y1="783.7" x2="1802" y2="796.2" stroke="#000" stroke-width="4" stroke-linecap="butt"/>
<line x1="1045.2" y1="1402.7" x2="1032.7" y2="1402.7" stroke="#000" stroke-width="4" stroke-linecap="butt"/>
<line x1="1802" y1="1402.7" x2="1789.5" y2="1402.7" stroke="#000" stroke-width="4" stroke-linecap="butt"/>
<line x1="1045.2" y1="1371.8" x2="1039" y2="1371.8" stroke="#000" stroke-width="4" stroke-linecap="butt"/>
<line x1="1802" y1="1371.8" x2="1795.8" y2="1371.8" stroke="#000" stroke-width="4" stroke-linecap="butt"/>
<line x1="1045.2" y1="1340.8" x2="1039" y2="1340.8" stroke="#000" stroke-width="4" stroke-linecap="butt"/>
<line x1="1802" y1="1340.8" x2="1795.8" y2="1340.8" stroke="#000" stroke-width="4" stroke-linecap="butt"/>
<line x1="1045.2" y1="1309.8" x2="1039" y2="1309.8" stroke="#000" stroke-width="4" stroke-linecap="butt"/>
<line x1="1802" y1="1309.8" x2="1795.8" y2="1309.8" stroke="#000" stroke-width="4" stroke-linecap="butt"/>
<line x1="1045.2" y1="1278.9" x2="1039" y2="1278.9" stroke="#000" stroke-width="4" stroke-linecap="butt"/>
<line x1="1802" y1="1278.9" x2="1795.8" y2="1278.9" stroke="#000" stroke-width="4" stroke-linecap="butt"/>
<line x1="1045.2" y1="1247.9" x2="1032.7" y2="1247.9" stroke="#000" stroke-width="4" stroke-linecap="butt"/>
<line x1="1802" y1="1247.9" x2="1789.5" y2="1247.9" stroke="#000" stroke-width="4" stroke-linecap="butt"/>
<line x1="1045.2" y1="1217" x2="1039" y2="1217" stroke="#000" stroke-width="4" stroke-linecap="butt"/>
<line x1="1802" y1="1217" x2="1795.8" y2="1217" stroke="#000" stroke-width="4" stroke-linecap="butt"/>
<line x1="1045.2" y1="1186" x2="1039" y2="1186" stroke="#000" stroke-width="4" stroke-linecap="butt"/>
<line x1="1802" y1="1186" x2="1795.8" y2="1186" stroke="#000" stroke-width="4" stroke-linecap="butt"/>
<line x1="1045.2" y1="1155.1" x2="1039" y2="1155.1" stroke="#000" stroke-width="4" stroke-linecap="butt"/>
<line x1="1802" y1="1155.1" x2="1795.8" y2="1155.1" stroke="#000" stroke-width="4" stroke-linecap="butt"/>
<line x1="1045.2" y1="1124.2" x2="1039" y2="1124.2" stroke="#000" stroke-width="4" stroke-linecap="butt"/>
<line x1="1802" y1="1124.2" x2="1795.8" y2="1124.2" stroke="#000" stroke-width="4" stroke-linecap="butt"/>
<line x1="1045.2" y1="1093.2" x2="1032.7" y2="1093.2" stroke="#000" stroke-width="4" stroke-linecap="butt"/>
<line x1="1802" y1="1093.2" x2="1789.5" y2="1093.2" stroke="#000" stroke-width="4" stroke-linecap="butt"/>
<line x1="1045.2" y1="1062.2" x2="1039" y2="1062.2" stroke="#000" stroke-width="4" stroke-linecap="butt"/>
<line x1="1802" y1="1062.2" x2="1795.8" y2="1062.2" stroke="#000" stroke-width="4" stroke-linecap="butt"/>
<line x1="1045.2" y1="1031.3" x2="1039" y2="1031.3" stroke="#000" stroke-width="4" stroke-linecap="butt"/>
<line x1="1802" y1="1031.3" x2="1795.8" y2="1031.3" stroke="#000" stroke-width="4" stroke-linecap="butt"/>
<line x1="1045.2" y1="1000.4" x2="1039" y2="1000.4" stroke="#000" stroke-width="4" stroke-linecap="butt"/>
<line x1="1802" y1="1000.4" x2="1795.8" y2="1000.4" stroke="#000" stroke-width="4" stroke-linecap="butt"/>
<line x1="1045.2" y1="969.4" x2="1039" y2="969.4" stroke="#000" stroke-width="4" stroke-linecap="butt"/>
<line x1="1802" y1="969.4" x2="1795.8" y2="969.4" stroke="#000" stroke-width="4" stroke-linecap="butt"/>
<line x1="1045.2" y1="938.5" x2="1032.7" y2="938.5" stroke="#000" stroke-width="4" stroke-linecap="butt"/>
<line x1="1802" y1="938.5" x2="1789.5" y2="938.5" stroke="#000" stroke-width="4" stroke-linecap="butt"/>
<line x1="1045.2" y1="907.5" x2="1039" y2="907.5" stroke="#000" stroke-width="4" stroke-linecap="butt"/>
<line x1="1802" y1="907.5" x2="1795.8" y2="907.5" stroke="#000" stroke-width="4" stroke-linecap="butt"/>
<line x1="1045.2" y1="876.5" x2="1039" y2="876.5" stroke="#000" stroke-width="4" stroke-linecap="butt"/>
<line x1="1802" y1="876.5" x2="1795.8" y2="876.5" stroke="#000" stroke-width="4" stroke-linecap="butt"/>
<line x1="1045.2" y1="845.6" x2="1039" y2="845.6" stroke="#000" stroke-width="4" stroke-linecap="butt"/>
<line x1="1802" y1="845.6" x2="1795.8" y2="845.6" stroke="#000" stroke-width="4" stroke-linecap="butt"/>
<line x1="1045.2" y1="814.7" x2="1039" y2="814.7" stroke="#000" stroke-width="4" stroke-linecap="butt"/>
<line x1="1802" y1="814.7" x2="1795.8" y2="814.7" stroke="#000" stroke-width="4" stroke-linecap="butt"/>
<line x1="1045.2" y1="783.7" x2="1032.7" y2="783.7" stroke="#000" stroke-width="4" stroke-linecap="butt"/>
<line x1="1802" y1="783.7" x2="1789.5" y2="783.7" stroke="#000" stroke-width="4" stroke-linecap="butt"/>
<rect x="1045.2" y="783.7" width="756.8" height="619" fill="none" stroke="#000" stroke-width="4"/>
<text x="1024.1" y="1412.7" font-size="35.8" fill="#000" text-anchor="end">0.75</text>
<text x="1024.1" y="1257.9" font-size="35.8" fill="#000" text-anchor="end">0.80</text>
<text x="1024.1" y="1103.2" font-size="35.8" fill="#000" text-anchor="end">0.85</text>
<text x="1024.1" y="948.5" font-size="35.8" fill="#000" text-anchor="end">0.90</text>
<text x="1024.1" y="793.7" font-size="35.8" fill="#000" text-anchor="end">0.95</text>
<text x="1150" y="1451" font-size="35.8" fill="#000" text-anchor="middle">0.1</text>
<text x="1476" y="1451" font-size="35.8" fill="#000" text-anchor="middle">1</text>
<text x="1802" y="1451" font-size="35.8" fill="#000" text-anchor="middle">10</text>
<text x="1071" y="846" font-size="43" fill="#000" text-anchor="start">d)</text>
<text x="1075" y="1366" font-size="33" fill="#000" text-anchor="start">H<tspan font-size="21.8" dy="8.2">2</tspan><tspan dy="-8.2">:Air, 80</tspan><tspan font-size="21.8" dy="-11.9">o</tspan><tspan dy="11.9">C, 1.7 bar (abs.)</tspan></text>
<text x="1270" y="1490.5" font-size="39.0" fill="#000" text-anchor="start">i<tspan font-size="26.5" dy="9.8">kin</tspan><tspan dy="-9.8"> [mA cm</tspan><tspan font-size="26.5" dy="-14.0">-2</tspan><tspan font-size="26.5" dy="24.2">Pt</tspan><tspan dy="-10.1">]</tspan></text>
<text x="944.6" y="1114" font-size="38.5" fill="#000" text-anchor="middle" transform="rotate(-90 944.6 1114)">iR and H<tspan font-size="25" dy="-14">+</tspan><tspan dy="14"> free potential [ V ]</tspan></text>
<rect x="1308.5" y="818.1" width="477.3" height="114.3" fill="#000"/>
<rect x="1299.2" y="808.8" width="477.3" height="114.3" fill="#fff"/>
<line x1="1299.2" y1="808.8" x2="1776.5" y2="808.8" stroke="#161616" stroke-width="1.2" stroke-linecap="butt"/>
<line x1="1299.2" y1="808.8" x2="1299.2" y2="923.1" stroke="#d0d0d0" stroke-width="1.2" stroke-linecap="butt"/>
<line x1="1303.6" y1="829.4" x2="1317.6" y2="829.4" stroke="#0a0a82" stroke-width="3.5" stroke-linecap="round"/>
<line x1="1352.6" y1="829.4" x2="1366.6" y2="829.4" stroke="#0a0a82" stroke-width="3.5" stroke-linecap="round"/>
<path d="M1320.6 837.9L1349.6 837.9L1335.1 812.4Z" fill="#0a0a82"/>
<text x="1376.5" y="838.9" font-size="28.2" fill="#000" text-anchor="start">100% RH</text>
<line x1="1303.6" y1="864.8" x2="1317.6" y2="864.8" stroke="#8f9bff" stroke-width="3.5" stroke-linecap="round"/>
<line x1="1352.6" y1="864.8" x2="1366.6" y2="864.8" stroke="#8f9bff" stroke-width="3.5" stroke-linecap="round"/>
<path d="M1324.3 872.4L1345.9 872.4L1335.1 852.8Z" fill="#fff" stroke="#8f9bff" stroke-width="4.8" stroke-linejoin="miter"/>
<rect x="1332.7" y="863.2" width="4.8" height="3.2" fill="#8f9bff"/>
<text x="1374" y="874.3" font-size="28.2" fill="#000" text-anchor="start">40% RH</text>
<line x1="1508" y1="830" x2="1522" y2="830" stroke="#9a9a9a" stroke-width="1.2" stroke-linecap="butt"/>
<path d="M1523.5 826L1537 830L1523.5 834Z" fill="#000"/>
<line x1="1506" y1="861.2" x2="1520" y2="861.2" stroke="#9a9a9a" stroke-width="1.2" stroke-linecap="butt"/>
<path d="M1521.5 857.2L1535 861.2L1521.5 865.2Z" fill="#000"/>
<line x1="1554.7" y1="829.4" x2="1568.7" y2="829.4" stroke="#8f9bff" stroke-width="3.5" stroke-linecap="round"/>
<line x1="1603.7" y1="829.4" x2="1617.7" y2="829.4" stroke="#8f9bff" stroke-width="3.5" stroke-linecap="round"/>
<path d="M1571.7 837.9L1600.7 837.9L1586.2 812.4Z" fill="#8f9bff"/>
<text x="1625" y="838.9" font-size="28.2" fill="#000" text-anchor="start">40% RH</text>
<line x1="1554.7" y1="864.8" x2="1568.7" y2="864.8" stroke="#0a0a82" stroke-width="3.5" stroke-linecap="round"/>
<line x1="1603.7" y1="864.8" x2="1617.7" y2="864.8" stroke="#0a0a82" stroke-width="3.5" stroke-linecap="round"/>
<path d="M1575.4 872.4L1597 872.4L1586.2 852.8Z" fill="#fff" stroke="#0a0a82" stroke-width="4.8" stroke-linejoin="miter"/>
<rect x="1583.8" y="863.2" width="4.8" height="3.2" fill="#0a0a82"/>
<text x="1627.3" y="874.3" font-size="28.2" fill="#000" text-anchor="start">100% RH</text>
<line x1="1304" y1="903.8" x2="1367" y2="903.8" stroke="#ff0000" stroke-width="7.8" stroke-linecap="round"/>
<text x="1375.5" y="913.1" font-size="29" fill="#000" text-anchor="start">Tafel line 70 mV dec<tspan font-size="19.5" dy="-11.5">-1</tspan></text>
</svg>
</body>
</html>
